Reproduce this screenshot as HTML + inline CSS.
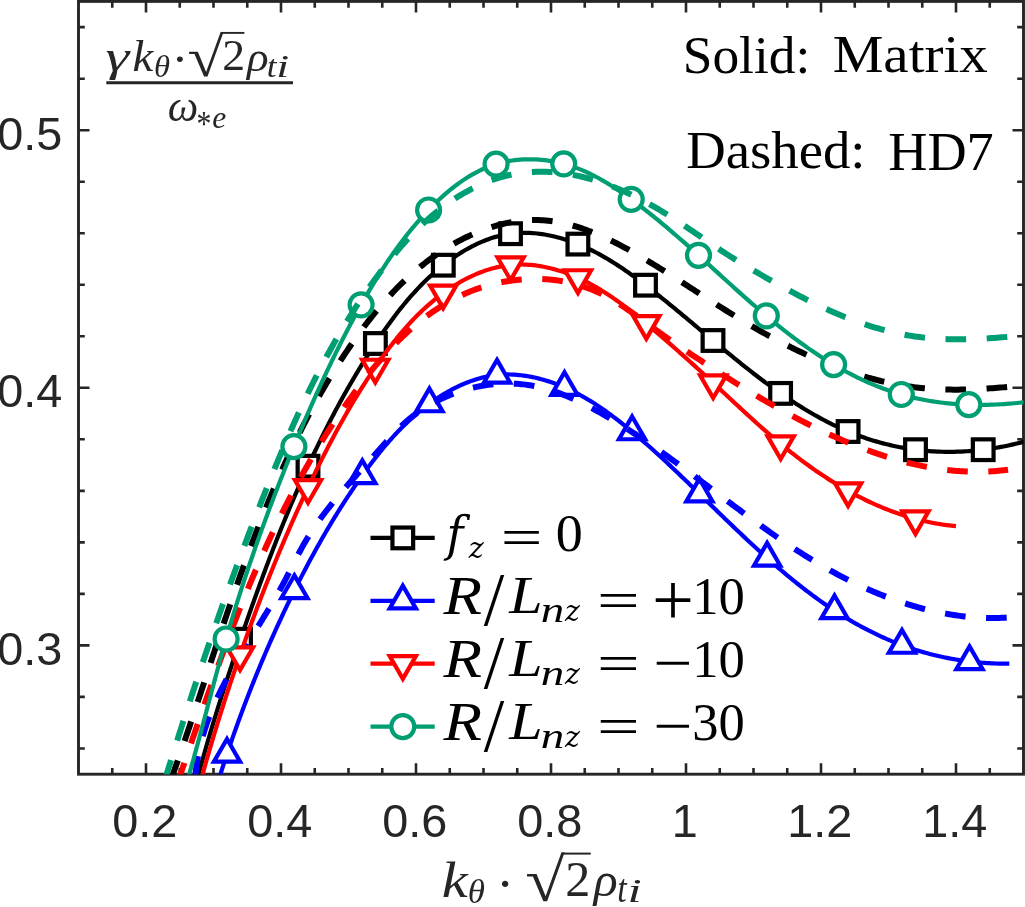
<!DOCTYPE html>
<html><head><meta charset="utf-8"><title>plot</title><style>html,body{margin:0;padding:0;background:#fff;overflow:hidden}svg{display:block}</style></head><body>
<svg width="1025" height="907" viewBox="0 0 1025 907">
<rect width="1025" height="907" fill="#fff"/>
<defs><clipPath id="ax"><rect x="78.5" y="1.4" width="945.0" height="772.8000000000001"/></clipPath></defs>
<path d="M112.25,774.2V767.9M112.25,1.4V7.7M146,774.2V763.2M146,1.4V12.4M179.75,774.2V767.9M179.75,1.4V7.7M213.5,774.2V767.9M213.5,1.4V7.7M247.25,774.2V767.9M247.25,1.4V7.7M281,774.2V763.2M281,1.4V12.4M314.75,774.2V767.9M314.75,1.4V7.7M348.5,774.2V767.9M348.5,1.4V7.7M382.25,774.2V767.9M382.25,1.4V7.7M416,774.2V763.2M416,1.4V12.4M449.75,774.2V767.9M449.75,1.4V7.7M483.5,774.2V767.9M483.5,1.4V7.7M517.25,774.2V767.9M517.25,1.4V7.7M551,774.2V763.2M551,1.4V12.4M584.75,774.2V767.9M584.75,1.4V7.7M618.5,774.2V767.9M618.5,1.4V7.7M652.25,774.2V767.9M652.25,1.4V7.7M686,774.2V763.2M686,1.4V12.4M719.75,774.2V767.9M719.75,1.4V7.7M753.5,774.2V767.9M753.5,1.4V7.7M787.25,774.2V767.9M787.25,1.4V7.7M821,774.2V763.2M821,1.4V12.4M854.75,774.2V767.9M854.75,1.4V7.7M888.5,774.2V767.9M888.5,1.4V7.7M922.25,774.2V767.9M922.25,1.4V7.7M956,774.2V763.2M956,1.4V12.4M989.75,774.2V767.9M989.75,1.4V7.7M78.5,748.44H84.8M1023.5,748.44H1017.2M78.5,696.92H84.8M1023.5,696.92H1017.2M78.5,645.4H89.5M1023.5,645.4H1012.5M78.5,593.88H84.8M1023.5,593.88H1017.2M78.5,542.36H84.8M1023.5,542.36H1017.2M78.5,490.84H84.8M1023.5,490.84H1017.2M78.5,439.32H84.8M1023.5,439.32H1017.2M78.5,387.8H89.5M1023.5,387.8H1012.5M78.5,336.28H84.8M1023.5,336.28H1017.2M78.5,284.76H84.8M1023.5,284.76H1017.2M78.5,233.24H84.8M1023.5,233.24H1017.2M78.5,181.72H84.8M1023.5,181.72H1017.2M78.5,130.2H89.5M1023.5,130.2H1012.5M78.5,78.68H84.8M1023.5,78.68H1017.2M78.5,27.16H84.8M1023.5,27.16H1017.2" fill="none" stroke="#262626" stroke-width="2.6"/>
<rect x="78.5" y="1.4" width="945.0" height="772.8000000000001" fill="none" stroke="#262626" stroke-width="2.9"/>
<text x="144.8" y="837.0" font-family="Liberation Sans, Arial, sans-serif" font-size="46.8" fill="#262626" text-anchor="middle">0.2</text>
<text x="279.8" y="837.0" font-family="Liberation Sans, Arial, sans-serif" font-size="46.8" fill="#262626" text-anchor="middle">0.4</text>
<text x="414.8" y="837.0" font-family="Liberation Sans, Arial, sans-serif" font-size="46.8" fill="#262626" text-anchor="middle">0.6</text>
<text x="549.8" y="837.0" font-family="Liberation Sans, Arial, sans-serif" font-size="46.8" fill="#262626" text-anchor="middle">0.8</text>
<text x="684.8" y="837.0" font-family="Liberation Sans, Arial, sans-serif" font-size="46.8" fill="#262626" text-anchor="middle">1</text>
<text x="819.8" y="837.0" font-family="Liberation Sans, Arial, sans-serif" font-size="46.8" fill="#262626" text-anchor="middle">1.2</text>
<text x="954.8" y="837.0" font-family="Liberation Sans, Arial, sans-serif" font-size="46.8" fill="#262626" text-anchor="middle">1.4</text>
<text x="62.3" y="664.8" font-family="Liberation Sans, Arial, sans-serif" font-size="46.8" fill="#262626" text-anchor="end">0.3</text>
<text x="62.3" y="407.2" font-family="Liberation Sans, Arial, sans-serif" font-size="46.8" fill="#262626" text-anchor="end">0.4</text>
<text x="62.3" y="149.6" font-family="Liberation Sans, Arial, sans-serif" font-size="46.8" fill="#262626" text-anchor="end">0.5</text>
<g clip-path="url(#ax)" fill="none" stroke-linecap="butt" stroke-linejoin="round">
<path d="M197,780L197.64,777.61L198.28,775.22L198.92,772.83L199.57,770.44L200.22,768.05L200.88,765.66L201.54,763.28L202.2,760.9L202.87,758.51L203.54,756.13L204.21,753.75L204.89,751.37L205.57,748.99L206.25,746.62L206.94,744.24L207.63,741.87L208.33,739.49L209.03,737.12L209.73,734.75L210.43,732.38L211.14,730.01L211.85,727.64L212.57,725.27L213.29,722.91L214.01,720.54L214.73,718.18L215.46,715.81L216.19,713.45L216.92,711.09L217.65,708.73L218.39,706.37L219.13,704.01L219.88,701.65L220.62,699.3L221.37,696.94L222.12,694.58L222.88,692.23L223.63,689.87L224.39,687.52L225.15,685.17L225.92,682.82L226.68,680.46L227.45,678.11L228.22,675.76L229,673.41L229.77,671.07L230.55,668.72L231.33,666.37L232.11,664.02L232.89,661.68L233.68,659.33L234.46,656.99L235.25,654.64L236.04,652.3L236.84,649.95L237.63,647.61L238.43,645.27L239.23,642.93L240.03,640.59L240.83,638.25L241.63,635.9L242.43,633.56L243.24,631.23L244.05,628.89L244.86,626.55L245.67,624.21L246.48,621.87L247.3,619.54L248.11,617.2L248.93,614.86L249.75,612.53L250.58,610.19L251.4,607.86L252.23,605.53L253.06,603.2L253.89,600.87L254.72,598.53L255.56,596.21L256.4,593.88L257.24,591.55L258.08,589.22L258.93,586.9L259.77,584.57L260.62,582.25L261.48,579.92L262.33,577.6L263.19,575.28L264.05,572.96L264.92,570.64L265.78,568.32L266.65,566L267.53,563.69L268.4,561.37L269.28,559.06L270.16,556.75L271.04,554.44L271.93,552.13L272.82,549.82L273.72,547.51L274.61,545.2L275.51,542.9L276.42,540.6L277.32,538.29L278.23,535.99L279.15,533.69L280.06,531.4L280.98,529.1L281.91,526.8L282.83,524.51L283.77,522.22L284.7,519.93L285.64,517.64L286.58,515.35L287.53,513.07L288.48,510.78L289.43,508.5L290.39,506.22L291.35,503.94L292.31,501.66L293.28,499.39L294.26,497.11L295.23,494.84L296.22,492.57L297.2,490.3L298.19,488.03L299.19,485.77L300.19,483.51L301.19,481.24L302.2,478.98L303.21,476.73L304.22,474.47L305.25,472.22L306.27,469.97L307.3,467.72L308.34,465.47L309.38,463.23L310.42,460.98L311.47,458.74L312.52,456.5L313.58,454.27L314.65,452.03L315.71,449.8L316.79,447.57L317.87,445.34L318.95,443.12L320.04,440.9L321.13,438.68L322.23,436.46L323.34,434.24L324.45,432.03L325.56,429.82L326.68,427.62L327.81,425.41L328.94,423.21L330.07,421.01L331.22,418.82L332.36,416.62L333.52,414.43L334.68,412.25L335.84,410.06L337.01,407.88L338.19,405.71L339.37,403.53L340.56,401.36L341.75,399.19L342.95,397.03L344.16,394.86L345.37,392.71L346.59,390.55L347.81,388.4L349.05,386.25L350.28,384.11L351.52,381.97L352.77,379.83L354.03,377.7L355.29,375.56L356.56,373.44L357.84,371.32L359.12,369.2L360.41,367.08L361.7,364.97L363,362.86L364.31,360.76L365.62,358.66L366.95,356.56L368.27,354.47L369.61,352.38L370.95,350.3L372.3,348.22L373.66,346.14L375.02,344.07L376.39,342.01L377.77,339.94L379.15,337.89L380.55,335.84L381.95,333.79L383.36,331.75L384.78,329.71L386.21,327.69L387.65,325.67L389.1,323.66L390.56,321.65L392.03,319.65L393.51,317.67L395,315.69L396.51,313.72L398.02,311.76L399.55,309.81L401.1,307.87L402.65,305.95L404.22,304.03L405.81,302.12L407.41,300.23L409.02,298.35L410.65,296.48L412.29,294.63L413.95,292.79L415.63,290.96L417.32,289.15L419.03,287.35L420.76,285.57L422.5,283.8L424.26,282.05L426.04,280.31L427.84,278.59L429.66,276.89L431.49,275.21L433.35,273.54L435.23,271.89L437.13,270.26L439.04,268.65L440.98,267.06L442.94,265.48L444.92,263.93L446.93,262.4L448.95,260.89L451,259.4L453.06,257.94L455.15,256.51L457.25,255.1L459.38,253.73L461.52,252.38L463.68,251.07L465.86,249.79L468.05,248.55L470.26,247.34L472.49,246.17L474.74,245.04L477,243.95L479.27,242.9L481.56,241.9L483.87,240.94L486.19,240.03L488.52,239.17L490.86,238.35L493.22,237.59L495.59,236.87L497.97,236.21L500.36,235.61L502.77,235.06L505.18,234.57L507.61,234.14L510.04,233.76L512.48,233.45L514.93,233.2L517.39,233.01L519.86,232.88L522.33,232.81L524.8,232.79L527.28,232.83L529.77,232.92L532.25,233.07L534.73,233.27L537.22,233.51L539.7,233.81L542.18,234.16L544.65,234.55L547.13,234.99L549.59,235.47L552.06,235.99L554.51,236.56L556.96,237.17L559.39,237.82L561.82,238.51L564.24,239.24L566.64,240L569.03,240.8L571.41,241.63L573.77,242.5L576.12,243.4L578.45,244.32L580.77,245.28L583.06,246.27L585.34,247.28L587.61,248.32L589.85,249.39L592.09,250.49L594.3,251.61L596.51,252.75L598.7,253.92L600.87,255.11L603.03,256.32L605.18,257.56L607.32,258.81L609.44,260.09L611.55,261.38L613.65,262.69L615.74,264.02L617.82,265.37L619.88,266.73L621.94,268.11L623.99,269.5L626.03,270.91L628.06,272.33L630.08,273.76L632.09,275.21L634.1,276.66L636.1,278.13L638.09,279.6L640.07,281.08L642.05,282.58L644.02,284.07L645.99,285.58L647.95,287.09L649.91,288.6L651.87,290.12L653.81,291.65L655.76,293.18L657.7,294.72L659.64,296.26L661.57,297.8L663.5,299.35L665.42,300.9L667.34,302.46L669.26,304.02L671.18,305.59L673.09,307.15L675,308.72L676.91,310.3L678.82,311.87L680.72,313.45L682.62,315.03L684.53,316.61L686.42,318.19L688.32,319.78L690.22,321.37L692.11,322.96L694.01,324.54L695.9,326.13L697.79,327.73L699.69,329.32L701.58,330.91L703.47,332.5L705.37,334.09L707.26,335.68L709.15,337.27L711.05,338.86L712.94,340.45L714.84,342.04L716.74,343.63L718.63,345.21L720.54,346.79L722.44,348.37L724.34,349.95L726.25,351.53L728.16,353.1L730.07,354.67L731.98,356.24L733.9,357.81L735.81,359.37L737.74,360.92L739.66,362.48L741.59,364.02L743.52,365.57L745.46,367.11L747.4,368.64L749.34,370.17L751.29,371.7L753.24,373.22L755.2,374.73L757.16,376.24L759.13,377.74L761.1,379.23L763.08,380.72L765.06,382.2L767.05,383.67L769.04,385.14L771.04,386.6L773.05,388.05L775.06,389.49L777.08,390.93L779.1,392.35L781.14,393.77L783.17,395.18L785.22,396.58L787.27,397.97L789.33,399.35L791.4,400.72L793.47,402.08L795.56,403.43L797.65,404.76L799.74,406.09L801.85,407.4L803.96,408.7L806.08,409.98L808.21,411.26L810.34,412.51L812.48,413.76L814.64,414.99L816.8,416.2L818.96,417.4L821.14,418.59L823.32,419.75L825.52,420.91L827.72,422.04L829.93,423.16L832.15,424.26L834.37,425.34L836.61,426.4L838.86,427.45L841.11,428.47L843.37,429.48L845.65,430.46L847.93,431.43L850.22,432.37L852.52,433.3L854.83,434.2L857.14,435.08L859.47,435.94L861.8,436.78L864.14,437.6L866.49,438.4L868.85,439.17L871.21,439.93L873.58,440.66L875.96,441.37L878.35,442.05L880.74,442.72L883.14,443.36L885.54,443.98L887.95,444.58L890.36,445.15L892.78,445.7L895.2,446.23L897.63,446.73L900.07,447.21L902.51,447.67L904.95,448.11L907.39,448.52L909.84,448.9L912.3,449.26L914.75,449.6L917.21,449.92L919.68,450.21L922.14,450.47L924.61,450.71L927.08,450.93L929.55,451.12L932.02,451.29L934.5,451.44L936.97,451.56L939.45,451.66L941.93,451.74L944.41,451.79L946.89,451.82L949.37,451.83L951.85,451.82L954.33,451.78L956.81,451.72L959.29,451.64L961.76,451.53L964.24,451.4L966.72,451.25L969.19,451.08L971.66,450.89L974.14,450.67L976.6,450.44L979.07,450.18L981.54,449.9L984,449.6L986.46,449.28L988.91,448.94L991.37,448.57L993.82,448.19L996.26,447.78L998.7,447.36L1001.14,446.91L1003.57,446.44L1006,445.96L1008.43,445.45L1010.85,444.92L1013.26,444.38L1015.67,443.81L1018.07,443.22L1020.47,442.62L1022.86,441.99L1025.25,441.35L1027.63,440.68L1030,440" stroke="#000000" stroke-width="4.2"/>
<rect x="230.15" y="628.85" width="20.7" height="20.7" fill="#fff" stroke="#000000" stroke-width="4.2" stroke-linejoin="miter"/>
<rect x="297.65" y="455.85" width="20.7" height="20.7" fill="#fff" stroke="#000000" stroke-width="4.2" stroke-linejoin="miter"/>
<rect x="365.05" y="333.15" width="20.7" height="20.7" fill="#fff" stroke="#000000" stroke-width="4.2" stroke-linejoin="miter"/>
<rect x="432.95" y="254.85" width="20.7" height="20.7" fill="#fff" stroke="#000000" stroke-width="4.2" stroke-linejoin="miter"/>
<rect x="500.15" y="223.35" width="20.7" height="20.7" fill="#fff" stroke="#000000" stroke-width="4.2" stroke-linejoin="miter"/>
<rect x="567.55" y="233.75" width="20.7" height="20.7" fill="#fff" stroke="#000000" stroke-width="4.2" stroke-linejoin="miter"/>
<rect x="635.15" y="274.85" width="20.7" height="20.7" fill="#fff" stroke="#000000" stroke-width="4.2" stroke-linejoin="miter"/>
<rect x="702.65" y="330.15" width="20.7" height="20.7" fill="#fff" stroke="#000000" stroke-width="4.2" stroke-linejoin="miter"/>
<rect x="770.25" y="383.05" width="20.7" height="20.7" fill="#fff" stroke="#000000" stroke-width="4.2" stroke-linejoin="miter"/>
<rect x="837.75" y="421.15" width="20.7" height="20.7" fill="#fff" stroke="#000000" stroke-width="4.2" stroke-linejoin="miter"/>
<rect x="905.15" y="439.35" width="20.7" height="20.7" fill="#fff" stroke="#000000" stroke-width="4.2" stroke-linejoin="miter"/>
<rect x="972.85" y="439.35" width="20.7" height="20.7" fill="#fff" stroke="#000000" stroke-width="4.2" stroke-linejoin="miter"/>
<path d="M170.93,779.93L171.76,777.62L172.58,775.31L173.41,773L174.23,770.69L175.05,768.37L175.87,766.06L176.69,763.74L177.5,761.42L178.32,759.1L179.13,756.77L179.93,754.45L180.74,752.12L181.55,749.79L182.35,747.46L183.15,745.13L183.95,742.8L184.75,740.46L185.55,738.13L186.34,735.79L187.14,733.45L187.93,731.11L188.72,728.77L189.51,726.43L190.3,724.08L191.09,721.74L191.88,719.39L192.66,717.04L193.45,714.7L194.23,712.35L195.02,710L195.8,707.65L196.58,705.29L197.36,702.94L198.15,700.59L198.93,698.23L199.71,695.88L200.49,693.52L201.27,691.17L202.05,688.81L202.83,686.45L203.6,684.09L204.38,681.73L205.16,679.37L205.94,677.01L206.72,674.65L207.5,672.29L208.28,669.93L209.06,667.57L209.84,665.21L210.62,662.85L211.4,660.48L212.18,658.12L212.96,655.76L213.74,653.4L214.53,651.03L215.31,648.67L216.1,646.31L216.88,643.94L217.67,641.58L218.45,639.22L219.24,636.86L220.03,634.49L220.82,632.13L221.61,629.77L222.41,627.41L223.2,625.04L223.99,622.68L224.79,620.32L225.59,617.96L226.39,615.6L227.19,613.24L227.99,610.88L228.8,608.52L229.6,606.17L230.41,603.81L231.22,601.45L232.03,599.1L232.85,596.74L233.66,594.39L234.48,592.03L235.3,589.68L236.12,587.33L236.95,584.98L237.78,582.63L238.6,580.28L239.44,577.93L240.27,575.58L241.11,573.23L241.95,570.89L242.79,568.55L243.63,566.2L244.48,563.86L245.33,561.52L246.18,559.18L247.04,556.84L247.9,554.51L248.76,552.17L249.63,549.84L250.5,547.51L251.37,545.18L252.24,542.85L253.12,540.52L254,538.19L254.89,535.87L255.78,533.55L256.67,531.23L257.57,528.91L258.47,526.59L259.37,524.27L260.28,521.96L261.19,519.65L262.1,517.34L263.02,515.03L263.95,512.72L264.87,510.42L265.8,508.12L266.74,505.82L267.68,503.52L268.62,501.23L269.57,498.93L270.52,496.64L271.48,494.35L272.44,492.07L273.41,489.78L274.38,487.5L275.36,485.22L276.34,482.94L277.33,480.67L278.32,478.4L279.31,476.13L280.31,473.86L281.32,471.6L282.33,469.33L283.34,467.08L284.37,464.82L285.39,462.57L286.42,460.32L287.46,458.07L288.5,455.82L289.55,453.58L290.61,451.34L291.67,449.11L292.73,446.87L293.8,444.64L294.88,442.42L295.96,440.19L297.05,437.97L298.15,435.75L299.25,433.54L300.35,431.33L301.47,429.12L302.59,426.92L303.71,424.72L304.84,422.52L305.98,420.32L307.13,418.13L308.28,415.95L309.44,413.76L310.6,411.58L311.77,409.41L312.95,407.23L314.13,405.06L315.33,402.9L316.52,400.74L317.73,398.58L318.94,396.42L320.16,394.27L321.39,392.13L322.62,389.99L323.86,387.85L325.11,385.71L326.37,383.58L327.63,381.46L328.9,379.33L330.18,377.22L331.46,375.1L332.76,372.99L334.06,370.89L335.37,368.79L336.69,366.69L338.01,364.6L339.34,362.51L340.68,360.42L342.03,358.34L343.39,356.27L344.75,354.2L346.13,352.13L347.51,350.07L348.9,348.02L350.3,345.96L351.7,343.92L353.12,341.88L354.54,339.84L355.98,337.81L357.42,335.78L358.87,333.77L360.34,331.75L361.81,329.75L363.29,327.75L364.78,325.76L366.29,323.78L367.8,321.8L369.33,319.84L370.86,317.88L372.41,315.93L373.97,313.99L375.54,312.06L377.12,310.14L378.72,308.23L380.32,306.33L381.94,304.44L383.57,302.56L385.22,300.69L386.88,298.84L388.55,296.99L390.23,295.16L391.93,293.34L393.65,291.53L395.37,289.74L397.11,287.96L398.87,286.19L400.64,284.43L402.42,282.69L404.22,280.97L406.04,279.25L407.87,277.56L409.72,275.88L411.58,274.21L413.46,272.56L415.35,270.92L417.26,269.31L419.19,267.7L421.14,266.12L423.1,264.55L425.08,263L427.07,261.47L429.09,259.95L431.12,258.46L433.17,256.98L435.23,255.52L437.31,254.09L439.41,252.67L441.52,251.28L443.64,249.91L445.78,248.56L447.93,247.23L450.1,245.93L452.28,244.65L454.47,243.4L456.68,242.18L458.9,240.98L461.12,239.8L463.36,238.66L465.62,237.54L467.88,236.45L470.15,235.4L472.43,234.37L474.72,233.37L477.02,232.4L479.33,231.46L481.64,230.56L483.97,229.69L486.3,228.85L488.63,228.05L490.98,227.28L493.33,226.55L495.69,225.85L498.05,225.19L500.41,224.56L502.79,223.97L505.16,223.42L507.54,222.91L509.92,222.44L512.31,222.01L514.7,221.62L517.09,221.27L519.48,220.96L521.88,220.7L524.27,220.47L526.67,220.29L529.07,220.16L531.46,220.07L533.86,220.02L536.26,220.02L538.65,220.07L541.04,220.16L543.44,220.3L545.82,220.49L548.21,220.72L550.6,220.99L552.98,221.31L555.36,221.68L557.74,222.08L560.11,222.52L562.48,223.01L564.85,223.53L567.22,224.09L569.58,224.69L571.94,225.32L574.3,225.99L576.65,226.7L579,227.43L581.34,228.2L583.68,229L586.02,229.83L588.36,230.7L590.68,231.59L593.01,232.5L595.33,233.45L597.64,234.42L599.96,235.41L602.26,236.43L604.56,237.48L606.86,238.54L609.15,239.63L611.44,240.74L613.72,241.87L615.99,243.01L618.26,244.18L620.53,245.36L622.78,246.55L625.04,247.77L627.28,248.99L629.52,250.23L631.76,251.48L633.98,252.75L636.2,254.02L638.42,255.3L640.62,256.59L642.82,257.89L645.02,259.2L647.2,260.51L649.38,261.83L651.55,263.15L653.72,264.47L655.87,265.8L658.02,267.13L660.17,268.46L662.3,269.79L664.43,271.12L666.55,272.45L668.67,273.79L670.78,275.12L672.88,276.46L674.98,277.79L677.08,279.13L679.17,280.47L681.26,281.81L683.34,283.14L685.42,284.48L687.5,285.81L689.57,287.15L691.64,288.49L693.71,289.82L695.77,291.15L697.84,292.48L699.9,293.81L701.96,295.14L704.02,296.47L706.08,297.79L708.14,299.12L710.2,300.44L712.26,301.76L714.32,303.07L716.38,304.39L718.44,305.7L720.51,307L722.57,308.31L724.64,309.61L726.71,310.91L728.78,312.2L730.86,313.49L732.94,314.78L735.02,316.06L737.1,317.34L739.19,318.61L741.29,319.88L743.39,321.15L745.49,322.41L747.6,323.66L749.72,324.91L751.84,326.16L753.96,327.39L756.1,328.63L758.24,329.85L760.38,331.08L762.54,332.29L764.7,333.5L766.87,334.7L769.04,335.9L771.23,337.08L773.42,338.26L775.61,339.44L777.81,340.6L780.02,341.76L782.23,342.91L784.46,344.05L786.68,345.18L788.92,346.3L791.16,347.42L793.4,348.52L795.65,349.62L797.91,350.7L800.17,351.78L802.44,352.84L804.71,353.9L806.99,354.94L809.28,355.97L811.57,356.99L813.86,358L816.16,359L818.47,359.99L820.78,360.96L823.09,361.93L825.41,362.88L827.74,363.81L830.07,364.74L832.4,365.65L834.74,366.54L837.08,367.43L839.43,368.3L841.78,369.15L844.13,369.99L846.49,370.82L848.86,371.63L851.23,372.43L853.6,373.21L855.97,373.97L858.35,374.72L860.73,375.46L863.12,376.17L865.51,376.88L867.9,377.56L870.3,378.23L872.7,378.88L875.1,379.51L877.5,380.13L879.91,380.73L882.32,381.31L884.74,381.87L887.15,382.41L889.57,382.93L891.99,383.44L894.42,383.93L896.84,384.39L899.27,384.84L901.7,385.27L904.14,385.68L906.57,386.06L909.01,386.43L911.45,386.78L913.89,387.1L916.33,387.41L918.78,387.69L921.22,387.95L923.67,388.19L926.12,388.41L928.57,388.62L931.02,388.8L933.47,388.96L935.93,389.11L938.39,389.23L940.84,389.34L943.3,389.43L945.76,389.51L948.22,389.57L950.69,389.61L953.15,389.63L955.62,389.64L958.09,389.64L960.55,389.62L963.02,389.58L965.49,389.54L967.96,389.47L970.44,389.4L972.91,389.31L975.39,389.21L977.86,389.1L980.34,388.97L982.82,388.83L985.29,388.69L987.77,388.53L990.25,388.36L992.73,388.18L995.22,387.99L997.7,387.79L1000.18,387.59L1002.67,387.37L1005.15,387.15L1007.64,386.92L1010.12,386.68L1012.61,386.44L1015.09,386.18L1017.58,385.93L1020.07,385.66L1022.56,385.39L1025.05,385.12L1027.54,384.84L1030.03,384.56" stroke="#000000" stroke-width="6.0" stroke-dasharray="20.65 20.55" stroke-dashoffset="0"/>
<path d="M218.6,780L219.27,777.87L219.94,775.74L220.62,773.61L221.3,771.49L221.98,769.36L222.67,767.24L223.36,765.11L224.05,762.99L224.75,760.87L225.45,758.75L226.16,756.63L226.86,754.51L227.57,752.39L228.29,750.27L229.01,748.16L229.73,746.04L230.45,743.93L231.18,741.82L231.91,739.71L232.65,737.6L233.39,735.49L234.13,733.38L234.87,731.27L235.62,729.17L236.38,727.06L237.13,724.96L237.89,722.86L238.65,720.76L239.42,718.66L240.19,716.56L240.96,714.47L241.74,712.37L242.52,710.28L243.31,708.18L244.09,706.09L244.88,704L245.68,701.91L246.48,699.83L247.28,697.74L248.09,695.65L248.89,693.57L249.71,691.49L250.52,689.41L251.34,687.33L252.17,685.25L252.99,683.17L253.82,681.1L254.66,679.03L255.5,676.95L256.34,674.88L257.18,672.81L258.03,670.74L258.88,668.68L259.74,666.61L260.6,664.55L261.46,662.49L262.33,660.43L263.2,658.37L264.07,656.31L264.95,654.26L265.83,652.2L266.71,650.15L267.6,648.1L268.49,646.05L269.39,644L270.29,641.95L271.19,639.91L272.1,637.86L273.01,635.82L273.92,633.78L274.84,631.75L275.76,629.71L276.69,627.67L277.62,625.64L278.55,623.61L279.49,621.58L280.43,619.55L281.37,617.52L282.32,615.5L283.27,613.48L284.22,611.46L285.18,609.44L286.15,607.42L287.11,605.4L288.08,603.39L289.06,601.38L290.03,599.37L291.01,597.36L292,595.35L292.99,593.35L293.98,591.34L294.98,589.34L295.98,587.34L296.98,585.35L297.99,583.35L299,581.36L300.02,579.37L301.04,577.38L302.06,575.39L303.09,573.4L304.12,571.42L305.16,569.44L306.2,567.46L307.24,565.49L308.29,563.51L309.35,561.54L310.4,559.57L311.47,557.61L312.53,555.64L313.61,553.68L314.68,551.72L315.76,549.77L316.85,547.81L317.94,545.86L319.03,543.91L320.13,541.97L321.24,540.02L322.35,538.08L323.46,536.15L324.58,534.21L325.71,532.28L326.84,530.35L327.97,528.43L329.11,526.51L330.26,524.59L331.41,522.67L332.56,520.76L333.73,518.85L334.89,516.94L336.06,515.04L337.24,513.14L338.42,511.25L339.61,509.35L340.81,507.46L342.01,505.58L343.21,503.69L344.42,501.82L345.64,499.94L346.86,498.07L348.09,496.2L349.33,494.34L350.57,492.48L351.82,490.62L353.07,488.77L354.33,486.92L355.59,485.07L356.86,483.23L358.14,481.39L359.43,479.56L360.72,477.73L362.01,475.9L363.32,474.08L364.62,472.27L365.94,470.45L367.26,468.65L368.6,466.84L369.93,465.05L371.28,463.26L372.63,461.47L374,459.7L375.37,457.92L376.75,456.16L378.14,454.4L379.54,452.66L380.95,450.92L382.37,449.18L383.8,447.46L385.23,445.75L386.69,444.04L388.15,442.35L389.62,440.66L391.1,438.99L392.6,437.32L394.11,435.67L395.63,434.03L397.16,432.39L398.7,430.77L400.26,429.17L401.83,427.57L403.42,425.99L405.02,424.42L406.63,422.87L408.26,421.33L409.9,419.8L411.55,418.28L413.22,416.79L414.91,415.3L416.61,413.83L418.33,412.38L420.07,410.94L421.82,409.52L423.58,408.12L425.37,406.73L427.17,405.36L428.99,404L430.82,402.67L432.68,401.35L434.55,400.05L436.43,398.78L438.34,397.52L440.26,396.29L442.19,395.08L444.14,393.89L446.11,392.73L448.09,391.6L450.08,390.49L452.09,389.41L454.11,388.36L456.14,387.34L458.19,386.36L460.25,385.4L462.32,384.48L464.4,383.59L466.49,382.74L468.59,381.92L470.71,381.14L472.83,380.4L474.97,379.69L477.11,379.03L479.26,378.41L481.42,377.83L483.59,377.29L485.77,376.8L487.95,376.35L490.14,375.95L492.34,375.59L494.55,375.28L496.76,375.03L498.97,374.82L501.19,374.66L503.42,374.54L505.65,374.48L507.88,374.46L510.11,374.49L512.35,374.56L514.59,374.67L516.82,374.83L519.06,375.04L521.3,375.28L523.53,375.56L525.77,375.89L528,376.25L530.22,376.65L532.45,377.09L534.66,377.56L536.87,378.07L539.08,378.61L541.28,379.19L543.47,379.8L545.65,380.45L547.83,381.12L549.99,381.83L552.15,382.56L554.29,383.32L556.43,384.12L558.55,384.93L560.65,385.78L562.75,386.65L564.83,387.54L566.9,388.46L568.95,389.4L570.99,390.37L573.01,391.36L575.02,392.36L577.02,393.39L579,394.44L580.97,395.51L582.93,396.6L584.88,397.71L586.81,398.84L588.74,399.99L590.65,401.15L592.55,402.33L594.44,403.53L596.32,404.75L598.19,405.98L600.05,407.22L601.89,408.48L603.73,409.75L605.56,411.04L607.38,412.34L609.19,413.66L611,414.98L612.79,416.32L614.58,417.67L616.35,419.03L618.12,420.4L619.89,421.78L621.64,423.16L623.39,424.56L625.14,425.96L626.87,427.38L628.6,428.8L630.33,430.22L632.05,431.66L633.76,433.09L635.47,434.54L637.17,435.99L638.87,437.44L640.56,438.9L642.25,440.36L643.94,441.83L645.62,443.3L647.29,444.78L648.96,446.27L650.63,447.75L652.3,449.24L653.95,450.74L655.61,452.24L657.26,453.74L658.91,455.25L660.56,456.76L662.2,458.27L663.84,459.79L665.47,461.31L667.11,462.83L668.74,464.36L670.36,465.89L671.99,467.42L673.61,468.95L675.23,470.49L676.85,472.03L678.47,473.57L680.08,475.11L681.69,476.66L683.3,478.21L684.91,479.75L686.52,481.3L688.13,482.86L689.73,484.41L691.34,485.96L692.94,487.52L694.54,489.07L696.14,490.63L697.74,492.19L699.34,493.74L700.94,495.3L702.54,496.86L704.14,498.42L705.74,499.98L707.34,501.54L708.94,503.1L710.54,504.65L712.14,506.21L713.74,507.77L715.34,509.33L716.94,510.88L718.55,512.44L720.15,513.99L721.75,515.55L723.36,517.1L724.96,518.65L726.57,520.2L728.18,521.75L729.79,523.3L731.4,524.85L733.01,526.39L734.63,527.94L736.24,529.48L737.86,531.02L739.48,532.55L741.1,534.09L742.73,535.62L744.35,537.15L745.98,538.68L747.61,540.21L749.25,541.73L750.88,543.25L752.52,544.77L754.16,546.28L755.81,547.79L757.46,549.3L759.11,550.8L760.76,552.31L762.42,553.8L764.08,555.3L765.74,556.79L767.41,558.28L769.08,559.76L770.76,561.24L772.44,562.72L774.12,564.19L775.81,565.65L777.5,567.12L779.2,568.57L780.9,570.02L782.6,571.47L784.31,572.91L786.02,574.35L787.74,575.78L789.46,577.2L791.19,578.62L792.92,580.04L794.66,581.44L796.4,582.84L798.15,584.24L799.9,585.62L801.66,587L803.43,588.38L805.19,589.74L806.97,591.1L808.75,592.45L810.54,593.79L812.33,595.13L814.13,596.46L815.93,597.77L817.74,599.09L819.56,600.39L821.38,601.68L823.21,602.97L825.04,604.24L826.89,605.51L828.73,606.77L830.59,608.02L832.45,609.25L834.32,610.48L836.2,611.7L838.08,612.91L839.97,614.11L841.87,615.3L843.77,616.47L845.68,617.64L847.6,618.8L849.52,619.94L851.45,621.07L853.39,622.2L855.34,623.3L857.29,624.4L859.24,625.49L861.21,626.56L863.18,627.62L865.16,628.67L867.14,629.71L869.13,630.73L871.13,631.74L873.14,632.73L875.15,633.71L877.17,634.68L879.19,635.64L881.22,636.58L883.26,637.5L885.3,638.41L887.35,639.31L889.41,640.19L891.47,641.06L893.54,641.91L895.61,642.74L897.69,643.56L899.78,644.37L901.87,645.15L903.97,645.92L906.08,646.68L908.19,647.42L910.31,648.14L912.43,648.85L914.56,649.54L916.7,650.21L918.84,650.87L920.98,651.51L923.13,652.14L925.28,652.75L927.44,653.34L929.61,653.91L931.77,654.47L933.95,655.02L936.12,655.54L938.3,656.05L940.49,656.55L942.67,657.02L944.86,657.48L947.06,657.93L949.26,658.36L951.46,658.77L953.66,659.16L955.87,659.54L958.08,659.9L960.29,660.25L962.5,660.57L964.72,660.89L966.94,661.18L969.16,661.46L971.38,661.72L973.6,661.97L975.83,662.19L978.06,662.4L980.29,662.6L982.51,662.78L984.74,662.94L986.98,663.08L989.21,663.21L991.44,663.32L993.67,663.41L995.91,663.49L998.14,663.55L1000.37,663.6L1002.6,663.62L1004.84,663.63L1007.07,663.62L1009.3,663.6" stroke="#0000ff" stroke-width="4.2"/>
<polygon points="227,738.97 240.1,761.66 213.9,761.66" fill="#fff" stroke="#0000ff" stroke-width="4.2" stroke-linejoin="miter"/>
<polygon points="294.4,575.37 307.5,598.06 281.3,598.06" fill="#fff" stroke="#0000ff" stroke-width="4.2" stroke-linejoin="miter"/>
<polygon points="362.3,460.37 375.4,483.06 349.2,483.06" fill="#fff" stroke="#0000ff" stroke-width="4.2" stroke-linejoin="miter"/>
<polygon points="429.4,388.57 442.5,411.26 416.3,411.26" fill="#fff" stroke="#0000ff" stroke-width="4.2" stroke-linejoin="miter"/>
<polygon points="497,359.87 510.1,382.56 483.9,382.56" fill="#fff" stroke="#0000ff" stroke-width="4.2" stroke-linejoin="miter"/>
<polygon points="564.5,372.27 577.6,394.96 551.4,394.96" fill="#fff" stroke="#0000ff" stroke-width="4.2" stroke-linejoin="miter"/>
<polygon points="632.1,416.57 645.2,439.26 619,439.26" fill="#fff" stroke="#0000ff" stroke-width="4.2" stroke-linejoin="miter"/>
<polygon points="699.4,478.67 712.5,501.36 686.3,501.36" fill="#fff" stroke="#0000ff" stroke-width="4.2" stroke-linejoin="miter"/>
<polygon points="767.1,542.87 780.2,565.56 754,565.56" fill="#fff" stroke="#0000ff" stroke-width="4.2" stroke-linejoin="miter"/>
<polygon points="834.5,595.47 847.6,618.16 821.4,618.16" fill="#fff" stroke="#0000ff" stroke-width="4.2" stroke-linejoin="miter"/>
<polygon points="902,630.07 915.1,652.76 888.9,652.76" fill="#fff" stroke="#0000ff" stroke-width="4.2" stroke-linejoin="miter"/>
<polygon points="969.5,646.37 982.6,669.06 956.4,669.06" fill="#fff" stroke="#0000ff" stroke-width="4.2" stroke-linejoin="miter"/>
<path d="M194.99,780L195.17,777.6L195.37,775.22L195.6,772.86L195.86,770.51L196.14,768.18L196.44,765.85L196.77,763.55L197.13,761.25L197.51,758.97L197.91,756.71L198.34,754.45L198.79,752.21L199.26,749.98L199.75,747.77L200.27,745.56L200.8,743.37L201.36,741.19L201.94,739.02L202.54,736.86L203.16,734.72L203.8,732.58L204.46,730.46L205.14,728.34L205.83,726.24L206.55,724.14L207.28,722.06L208.03,719.98L208.8,717.92L209.58,715.86L210.38,713.82L211.19,711.78L212.03,709.75L212.87,707.73L213.73,705.71L214.61,703.71L215.5,701.71L216.4,699.72L217.32,697.74L218.25,695.76L219.19,693.8L220.15,691.83L221.12,689.88L222.1,687.93L223.09,685.99L224.09,684.05L225.1,682.12L226.12,680.19L227.15,678.27L228.19,676.36L229.24,674.44L230.3,672.54L231.36,670.64L232.44,668.74L233.52,666.84L234.61,664.95L235.71,663.07L236.81,661.18L237.92,659.3L239.03,657.43L240.15,655.55L241.27,653.68L242.4,651.81L243.54,649.94L244.67,648.07L245.81,646.21L246.96,644.35L248.1,642.48L249.25,640.62L250.4,638.76L251.55,636.9L252.71,635.04L253.86,633.19L255.02,631.33L256.17,629.47L257.33,627.61L258.48,625.75L259.63,623.89L260.79,622.02L261.94,620.16L263.08,618.29L264.23,616.43L265.37,614.56L266.51,612.69L267.65,610.81L268.78,608.94L269.91,607.06L271.04,605.17L272.15,603.29L273.27,601.4L274.38,599.51L275.48,597.61L276.57,595.71L277.66,593.81L278.74,591.9L279.82,589.98L280.88,588.07L281.94,586.14L282.99,584.21L284.03,582.28L285.06,580.34L286.08,578.39L287.09,576.44L288.1,574.48L289.09,572.52L290.09,570.56L291.08,568.6L292.07,566.63L293.06,564.67L294.05,562.7L295.04,560.74L296.03,558.78L297.04,556.83L298.05,554.88L299.06,552.93L300.09,550.99L301.13,549.06L302.18,547.14L303.25,545.23L304.33,543.32L305.43,541.43L306.55,539.55L307.68,537.68L308.83,535.82L309.99,533.97L311.17,532.13L312.37,530.3L313.57,528.47L314.8,526.66L316.03,524.86L317.28,523.07L318.55,521.28L319.82,519.5L321.11,517.74L322.41,515.97L323.72,514.22L325.04,512.48L326.38,510.74L327.72,509.01L329.07,507.28L330.43,505.56L331.8,503.85L333.18,502.15L334.57,500.45L335.97,498.75L337.37,497.06L338.78,495.38L340.2,493.7L341.62,492.03L343.05,490.36L344.49,488.69L345.93,487.03L347.37,485.38L348.82,483.72L350.27,482.07L351.73,480.43L353.19,478.78L354.65,477.14L356.12,475.5L357.58,473.86L359.05,472.23L360.52,470.6L361.99,468.96L363.46,467.33L364.93,465.7L366.41,464.08L367.88,462.45L369.34,460.82L370.81,459.19L372.28,457.57L373.74,455.94L375.2,454.31L376.66,452.68L378.11,451.05L379.56,449.42L381.01,447.79L382.45,446.16L383.89,444.52L385.34,442.9L386.78,441.27L388.23,439.66L389.69,438.05L391.16,436.44L392.63,434.85L394.12,433.27L395.62,431.71L397.13,430.16L398.67,428.62L400.22,427.1L401.79,425.6L403.38,424.12L405,422.67L406.64,421.23L408.3,419.82L409.99,418.44L411.7,417.07L413.44,415.73L415.19,414.42L416.97,413.12L418.77,411.86L420.59,410.61L422.43,409.4L424.28,408.2L426.16,407.04L428.06,405.89L429.97,404.78L431.9,403.69L433.84,402.62L435.81,401.59L437.78,400.57L439.78,399.59L441.79,398.63L443.81,397.7L445.84,396.8L447.89,395.92L449.95,395.08L452.02,394.26L454.1,393.47L456.2,392.7L458.3,391.97L460.42,391.26L462.54,390.59L464.67,389.94L466.81,389.32L468.95,388.74L471.11,388.18L473.27,387.65L475.43,387.16L477.61,386.69L479.78,386.26L481.96,385.85L484.14,385.48L486.33,385.14L488.52,384.83L490.71,384.55L492.91,384.31L495.1,384.09L497.29,383.91L499.49,383.76L501.68,383.65L503.88,383.57L506.07,383.52L508.26,383.5L510.44,383.52L512.63,383.58L514.8,383.67L516.98,383.79L519.15,383.94L521.31,384.14L523.47,384.36L525.62,384.63L527.77,384.92L529.91,385.25L532.04,385.62L534.16,386.02L536.28,386.45L538.39,386.92L540.49,387.41L542.59,387.93L544.68,388.49L546.76,389.07L548.84,389.68L550.91,390.32L552.98,390.99L555.04,391.68L557.09,392.39L559.13,393.13L561.17,393.9L563.21,394.68L565.23,395.49L567.25,396.32L569.27,397.17L571.28,398.04L573.28,398.93L575.28,399.84L577.27,400.77L579.25,401.71L581.23,402.67L583.2,403.64L585.17,404.63L587.13,405.64L589.09,406.65L591.04,407.68L592.98,408.72L594.92,409.78L596.86,410.84L598.79,411.91L600.71,412.99L602.63,414.08L604.54,415.18L606.45,416.28L608.35,417.39L610.25,418.51L612.14,419.63L614.03,420.77L615.91,421.91L617.79,423.05L619.66,424.2L621.53,425.36L623.4,426.52L625.26,427.69L627.11,428.87L628.96,430.05L630.81,431.24L632.66,432.43L634.49,433.63L636.33,434.84L638.16,436.05L639.99,437.26L641.82,438.48L643.64,439.7L645.45,440.93L647.27,442.17L649.08,443.4L650.89,444.65L652.69,445.89L654.5,447.15L656.29,448.4L658.09,449.66L659.88,450.92L661.67,452.19L663.46,453.46L665.25,454.73L667.03,456.01L668.81,457.29L670.59,458.57L672.37,459.86L674.14,461.15L675.91,462.44L677.68,463.73L679.45,465.03L681.22,466.33L682.99,467.63L684.75,468.93L686.51,470.24L688.27,471.55L690.03,472.85L691.79,474.17L693.55,475.48L695.3,476.79L697.06,478.1L698.81,479.42L700.56,480.74L702.32,482.05L704.07,483.37L705.82,484.69L707.57,486.01L709.32,487.33L711.07,488.65L712.82,489.97L714.57,491.29L716.32,492.61L718.07,493.93L719.82,495.25L721.57,496.57L723.32,497.89L725.07,499.21L726.82,500.53L728.57,501.84L730.32,503.16L732.08,504.47L733.83,505.78L735.58,507.1L737.34,508.41L739.1,509.71L740.85,511.02L742.61,512.32L744.37,513.63L746.13,514.93L747.9,516.23L749.66,517.52L751.43,518.81L753.19,520.1L754.96,521.39L756.74,522.68L758.51,523.96L760.28,525.24L762.06,526.51L763.84,527.79L765.62,529.05L767.41,530.32L769.19,531.58L770.98,532.84L772.78,534.09L774.57,535.34L776.37,536.59L778.17,537.83L779.97,539.07L781.78,540.3L783.59,541.53L785.4,542.75L787.22,543.97L789.04,545.18L790.86,546.39L792.68,547.59L794.51,548.78L796.35,549.98L798.19,551.16L800.03,552.34L801.87,553.52L803.72,554.68L805.58,555.85L807.43,557L809.3,558.15L811.16,559.29L813.03,560.43L814.91,561.56L816.79,562.68L818.67,563.8L820.56,564.9L822.46,566.01L824.36,567.1L826.26,568.19L828.17,569.26L830.09,570.34L832.01,571.4L833.93,572.45L835.87,573.5L837.8,574.54L839.75,575.57L841.69,576.59L843.65,577.61L845.61,578.61L847.57,579.61L849.54,580.59L851.52,581.57L853.5,582.54L855.49,583.5L857.48,584.45L859.48,585.39L861.48,586.32L863.49,587.24L865.5,588.15L867.51,589.04L869.54,589.93L871.56,590.81L873.59,591.67L875.63,592.53L877.67,593.37L879.71,594.21L881.76,595.03L883.82,595.84L885.87,596.63L887.94,597.42L890,598.19L892.07,598.96L894.15,599.7L896.22,600.44L898.31,601.16L900.39,601.87L902.48,602.57L904.57,603.26L906.67,603.93L908.77,604.58L910.87,605.23L912.98,605.86L915.09,606.47L917.2,607.07L919.32,607.66L921.44,608.23L923.56,608.79L925.69,609.34L927.81,609.86L929.95,610.38L932.08,610.88L934.22,611.36L936.35,611.83L938.5,612.28L940.64,612.71L942.79,613.13L944.94,613.54L947.09,613.92L949.24,614.29L951.4,614.65L953.55,614.99L955.71,615.31L957.88,615.61L960.04,615.89L962.2,616.16L964.37,616.41L966.54,616.65L968.71,616.86L970.88,617.06L973.05,617.24L975.23,617.4L977.4,617.54L979.58,617.67L981.76,617.77L983.94,617.86L986.12,617.93L988.3,617.97L990.48,618L992.67,618.01L994.85,618L997.03,617.97L999.22,617.92L1001.41,617.85L1003.59,617.76L1005.78,617.65L1007.97,617.51" stroke="#0000ff" stroke-width="6.0" stroke-dasharray="20.65 20.55" stroke-dashoffset="-3.4"/>
<path d="M201,780L201.61,777.78L202.23,775.55L202.85,773.33L203.47,771.11L204.09,768.89L204.72,766.67L205.35,764.45L205.98,762.23L206.62,760.02L207.25,757.8L207.89,755.58L208.54,753.37L209.18,751.16L209.83,748.94L210.48,746.73L211.13,744.52L211.79,742.31L212.45,740.1L213.11,737.89L213.77,735.68L214.44,733.47L215.11,731.27L215.78,729.06L216.46,726.86L217.13,724.65L217.81,722.45L218.49,720.25L219.18,718.05L219.87,715.84L220.56,713.64L221.25,711.45L221.94,709.25L222.64,707.05L223.34,704.85L224.05,702.66L224.75,700.46L225.46,698.27L226.17,696.07L226.88,693.88L227.6,691.69L228.32,689.5L229.04,687.31L229.76,685.12L230.49,682.93L231.22,680.74L231.95,678.56L232.68,676.37L233.42,674.19L234.15,672L234.9,669.82L235.64,667.64L236.39,665.45L237.13,663.27L237.89,661.09L238.64,658.91L239.4,656.73L240.15,654.56L240.92,652.38L241.68,650.2L242.45,648.03L243.22,645.85L243.99,643.68L244.76,641.51L245.54,639.34L246.32,637.16L247.1,634.99L247.88,632.83L248.67,630.66L249.46,628.49L250.25,626.32L251.05,624.16L251.84,621.99L252.64,619.83L253.45,617.67L254.25,615.51L255.06,613.35L255.87,611.19L256.68,609.03L257.5,606.87L258.32,604.71L259.14,602.56L259.97,600.4L260.79,598.25L261.62,596.1L262.45,593.95L263.29,591.8L264.13,589.65L264.97,587.5L265.81,585.35L266.66,583.2L267.51,581.06L268.36,578.92L269.22,576.77L270.08,574.63L270.94,572.49L271.8,570.35L272.67,568.22L273.54,566.08L274.41,563.94L275.29,561.81L276.16,559.68L277.04,557.54L277.93,555.41L278.82,553.28L279.71,551.16L280.6,549.03L281.5,546.9L282.4,544.78L283.3,542.65L284.2,540.53L285.11,538.41L286.02,536.29L286.94,534.17L287.85,532.06L288.77,529.94L289.7,527.83L290.63,525.72L291.55,523.6L292.49,521.49L293.42,519.39L294.36,517.28L295.31,515.17L296.25,513.07L297.2,510.97L298.15,508.86L299.11,506.76L300.06,504.67L301.03,502.57L301.99,500.47L302.96,498.38L303.93,496.29L304.9,494.19L305.88,492.1L306.86,490.02L307.84,487.93L308.83,485.84L309.82,483.76L310.82,481.68L311.81,479.6L312.82,477.52L313.82,475.44L314.83,473.36L315.84,471.29L316.86,469.22L317.88,467.15L318.9,465.08L319.93,463.02L320.96,460.95L322,458.89L323.04,456.83L324.08,454.78L325.13,452.72L326.18,450.67L327.24,448.62L328.3,446.57L329.37,444.52L330.44,442.48L331.52,440.44L332.6,438.4L333.69,436.37L334.78,434.34L335.88,432.31L336.98,430.28L338.09,428.26L339.2,426.24L340.32,424.22L341.44,422.2L342.57,420.19L343.7,418.18L344.84,416.18L345.99,414.17L347.14,412.17L348.3,410.18L349.46,408.18L350.63,406.2L351.8,404.21L352.99,402.23L354.17,400.25L355.37,398.27L356.57,396.3L357.77,394.33L358.99,392.37L360.21,390.41L361.43,388.45L362.67,386.5L363.91,384.55L365.15,382.6L366.41,380.66L367.67,378.72L368.93,376.79L370.21,374.86L371.49,372.93L372.78,371.01L374.07,369.1L375.38,367.19L376.69,365.28L378.01,363.37L379.34,361.48L380.67,359.58L382.02,357.7L383.37,355.82L384.73,353.94L386.1,352.08L387.48,350.22L388.87,348.36L390.27,346.52L391.69,344.68L393.11,342.86L394.54,341.04L395.99,339.23L397.44,337.43L398.91,335.64L400.39,333.86L401.88,332.1L403.39,330.34L404.91,328.6L406.44,326.86L407.98,325.14L409.54,323.44L411.11,321.74L412.7,320.06L414.3,318.39L415.92,316.74L417.55,315.1L419.2,313.48L420.86,311.87L422.54,310.27L424.24,308.7L425.95,307.13L427.68,305.59L429.42,304.06L431.19,302.55L432.97,301.06L434.76,299.58L436.58,298.13L438.42,296.69L440.27,295.27L442.14,293.87L444.03,292.5L445.95,291.14L447.88,289.8L449.82,288.49L451.79,287.2L453.77,285.93L455.78,284.69L457.79,283.48L459.83,282.29L461.88,281.13L463.94,280.01L466.02,278.91L468.11,277.85L470.22,276.81L472.34,275.82L474.48,274.85L476.63,273.93L478.79,273.04L480.96,272.19L483.14,271.37L485.34,270.6L487.54,269.87L489.76,269.18L491.98,268.54L494.21,267.94L496.46,267.38L498.71,266.87L500.97,266.41L503.23,265.99L505.51,265.63L507.79,265.32L510.07,265.05L512.37,264.84L514.66,264.68L516.97,264.58L519.27,264.52L521.58,264.51L523.89,264.56L526.2,264.65L528.51,264.78L530.83,264.96L533.14,265.19L535.45,265.46L537.76,265.78L540.06,266.13L542.36,266.53L544.66,266.97L546.95,267.45L549.23,267.96L551.51,268.52L553.78,269.11L556.04,269.74L558.29,270.4L560.54,271.1L562.77,271.83L564.99,272.6L567.2,273.39L569.39,274.22L571.58,275.08L573.75,275.96L575.9,276.88L578.04,277.82L580.16,278.78L582.26,279.78L584.35,280.8L586.43,281.84L588.48,282.9L590.53,283.99L592.56,285.11L594.57,286.24L596.58,287.4L598.57,288.57L600.54,289.77L602.51,290.98L604.46,292.21L606.4,293.47L608.33,294.73L610.25,296.02L612.15,297.32L614.05,298.64L615.94,299.97L617.82,301.31L619.69,302.67L621.55,304.04L623.4,305.42L625.24,306.82L627.08,308.22L628.91,309.64L630.73,311.06L632.55,312.49L634.36,313.93L636.16,315.38L637.96,316.83L639.75,318.3L641.54,319.76L643.33,321.23L645.11,322.71L646.88,324.19L648.66,325.67L650.43,327.15L652.2,328.64L653.96,330.13L655.72,331.62L657.48,333.12L659.24,334.62L660.99,336.12L662.74,337.62L664.49,339.13L666.23,340.64L667.97,342.15L669.71,343.67L671.45,345.18L673.18,346.7L674.92,348.22L676.65,349.75L678.37,351.28L680.1,352.81L681.82,354.34L683.54,355.87L685.26,357.41L686.98,358.94L688.69,360.48L690.4,362.03L692.11,363.57L693.82,365.12L695.53,366.67L697.23,368.22L698.93,369.77L700.63,371.32L702.33,372.88L704.03,374.44L705.73,376L707.42,377.56L709.12,379.12L710.81,380.68L712.5,382.25L714.19,383.82L715.88,385.39L717.57,386.96L719.25,388.53L720.94,390.1L722.62,391.68L724.31,393.25L726,394.82L727.68,396.4L729.37,397.97L731.05,399.54L732.74,401.12L734.43,402.69L736.12,404.26L737.8,405.83L739.5,407.4L741.19,408.96L742.88,410.53L744.58,412.09L746.28,413.65L747.98,415.21L749.68,416.77L751.38,418.32L753.09,419.87L754.8,421.42L756.52,422.96L758.23,424.5L759.95,426.03L761.68,427.57L763.41,429.09L765.14,430.62L766.87,432.13L768.61,433.65L770.36,435.16L772.11,436.66L773.86,438.16L775.62,439.65L777.38,441.14L779.15,442.62L780.93,444.09L782.71,445.56L784.5,447.02L786.29,448.47L788.09,449.92L789.89,451.36L791.7,452.79L793.52,454.22L795.34,455.63L797.17,457.04L799,458.44L800.84,459.84L802.69,461.22L804.55,462.6L806.41,463.96L808.27,465.32L810.15,466.67L812.03,468.01L813.91,469.34L815.81,470.66L817.71,471.97L819.61,473.27L821.53,474.56L823.45,475.84L825.38,477.11L827.31,478.37L829.26,479.62L831.21,480.86L833.16,482.08L835.13,483.29L837.1,484.5L839.08,485.69L841.07,486.87L843.06,488.03L845.07,489.18L847.08,490.33L849.1,491.45L851.12,492.57L853.16,493.67L855.2,494.76L857.25,495.84L859.3,496.9L861.37,497.94L863.44,498.98L865.52,500L867.6,501L869.7,501.99L871.8,502.96L873.9,503.92L876.02,504.86L878.14,505.78L880.26,506.69L882.4,507.58L884.54,508.46L886.68,509.32L888.84,510.16L891,510.98L893.16,511.79L895.33,512.57L897.51,513.34L899.7,514.09L901.89,514.82L904.08,515.54L906.28,516.23L908.49,516.9L910.7,517.56L912.92,518.19L915.14,518.8L917.37,519.4L919.61,519.97L921.85,520.52L924.09,521.05L926.34,521.56L928.59,522.05L930.85,522.51L933.12,522.95L935.38,523.37L937.66,523.77L939.94,524.14L942.22,524.49L944.5,524.82L946.8,525.13L949.09,525.41L951.39,525.66L953.69,525.89L956,526.1" stroke="#ff0000" stroke-width="4.2"/>
<polygon points="240,670.13 253.1,647.44 226.9,647.44" fill="#fff" stroke="#ff0000" stroke-width="4.2" stroke-linejoin="miter"/>
<polygon points="308,502.73 321.1,480.04 294.9,480.04" fill="#fff" stroke="#ff0000" stroke-width="4.2" stroke-linejoin="miter"/>
<polygon points="375.3,382.43 388.4,359.74 362.2,359.74" fill="#fff" stroke="#ff0000" stroke-width="4.2" stroke-linejoin="miter"/>
<polygon points="443.2,308.23 456.3,285.54 430.1,285.54" fill="#fff" stroke="#ff0000" stroke-width="4.2" stroke-linejoin="miter"/>
<polygon points="510.6,280.13 523.7,257.44 497.5,257.44" fill="#fff" stroke="#ff0000" stroke-width="4.2" stroke-linejoin="miter"/>
<polygon points="578,292.93 591.1,270.24 564.9,270.24" fill="#fff" stroke="#ff0000" stroke-width="4.2" stroke-linejoin="miter"/>
<polygon points="646.3,338.83 659.4,316.14 633.2,316.14" fill="#fff" stroke="#ff0000" stroke-width="4.2" stroke-linejoin="miter"/>
<polygon points="713.2,398.03 726.3,375.34 700.1,375.34" fill="#fff" stroke="#ff0000" stroke-width="4.2" stroke-linejoin="miter"/>
<polygon points="780.7,459.03 793.8,436.34 767.6,436.34" fill="#fff" stroke="#ff0000" stroke-width="4.2" stroke-linejoin="miter"/>
<polygon points="848.1,506.03 861.2,483.34 835,483.34" fill="#fff" stroke="#ff0000" stroke-width="4.2" stroke-linejoin="miter"/>
<polygon points="915.5,534.03 928.6,511.34 902.4,511.34" fill="#fff" stroke="#ff0000" stroke-width="4.2" stroke-linejoin="miter"/>
<path d="M178.48,780.05L179.25,777.82L180.02,775.58L180.78,773.34L181.55,771.11L182.31,768.87L183.07,766.63L183.84,764.4L184.6,762.16L185.37,759.93L186.13,757.69L186.89,755.46L187.66,753.23L188.42,750.99L189.19,748.76L189.95,746.53L190.71,744.29L191.48,742.06L192.24,739.83L193.01,737.6L193.77,735.37L194.54,733.14L195.31,730.91L196.07,728.68L196.84,726.46L197.61,724.23L198.38,722L199.14,719.78L199.91,717.55L200.69,715.33L201.46,713.1L202.23,710.88L203,708.66L203.78,706.44L204.55,704.22L205.33,702L206.11,699.78L206.88,697.56L207.66,695.34L208.44,693.12L209.23,690.91L210.01,688.69L210.79,686.48L211.58,684.26L212.37,682.05L213.16,679.84L213.95,677.63L214.74,675.42L215.53,673.21L216.33,671.01L217.12,668.8L217.92,666.59L218.72,664.39L219.53,662.19L220.33,659.98L221.14,657.78L221.94,655.58L222.75,653.38L223.57,651.19L224.38,648.99L225.2,646.79L226.01,644.6L226.84,642.41L227.66,640.21L228.48,638.02L229.31,635.83L230.14,633.65L230.97,631.46L231.81,629.27L232.64,627.09L233.48,624.91L234.33,622.73L235.17,620.55L236.02,618.37L236.87,616.19L237.72,614.01L238.58,611.84L239.44,609.67L240.3,607.5L241.17,605.33L242.03,603.16L242.9,600.99L243.78,598.82L244.66,596.66L245.54,594.5L246.42,592.34L247.31,590.18L248.2,588.02L249.09,585.87L249.99,583.71L250.89,581.56L251.79,579.41L252.7,577.26L253.61,575.11L254.52,572.97L255.44,570.82L256.36,568.68L257.29,566.54L258.22,564.4L259.15,562.26L260.09,560.13L261.03,558L261.98,555.86L262.93,553.74L263.88,551.61L264.84,549.48L265.8,547.36L266.76,545.24L267.73,543.12L268.71,541L269.69,538.88L270.67,536.77L271.66,534.66L272.65,532.55L273.64,530.44L274.64,528.34L275.65,526.23L276.66,524.13L277.67,522.03L278.69,519.93L279.72,517.84L280.75,515.75L281.78,513.66L282.82,511.57L283.86,509.48L284.91,507.4L285.96,505.32L287.02,503.24L288.09,501.16L289.16,499.08L290.23,497.01L291.31,494.94L292.39,492.87L293.48,490.81L294.58,488.74L295.68,486.68L296.79,484.62L297.9,482.57L299.01,480.52L300.14,478.46L301.27,476.42L302.4,474.37L303.54,472.33L304.69,470.29L305.84,468.25L306.99,466.21L308.16,464.18L309.33,462.15L310.5,460.12L311.68,458.09L312.87,456.07L314.06,454.05L315.26,452.03L316.47,450.02L317.68,448L318.9,446L320.12,443.99L321.36,441.98L322.59,439.98L323.84,437.98L325.09,435.99L326.34,434L327.61,432.01L328.88,430.02L330.16,428.03L331.44,426.05L332.73,424.07L334.03,422.1L335.33,420.13L336.64,418.16L337.96,416.19L339.29,414.23L340.62,412.27L341.96,410.31L343.3,408.35L344.66,406.4L346.02,404.45L347.38,402.51L348.76,400.56L350.14,398.62L351.53,396.69L352.93,394.76L354.34,392.83L355.75,390.9L357.17,388.98L358.6,387.07L360.03,385.16L361.48,383.26L362.93,381.36L364.39,379.47L365.86,377.58L367.34,375.71L368.83,373.84L370.33,371.97L371.83,370.12L373.34,368.27L374.87,366.44L376.4,364.61L377.94,362.79L379.49,360.99L381.05,359.19L382.62,357.4L384.2,355.63L385.79,353.86L387.39,352.11L389,350.37L390.62,348.64L392.24,346.92L393.88,345.22L395.53,343.53L397.19,341.86L398.87,340.2L400.55,338.55L402.24,336.92L403.94,335.3L405.66,333.7L407.38,332.12L409.12,330.55L410.87,329L412.63,327.46L414.4,325.94L416.18,324.44L417.98,322.96L419.78,321.5L421.6,320.05L423.43,318.63L425.28,317.22L427.13,315.83L429,314.47L430.88,313.12L432.77,311.8L434.68,310.49L436.59,309.21L438.52,307.95L440.47,306.71L442.43,305.5L444.4,304.3L446.38,303.13L448.38,301.99L450.39,300.87L452.41,299.77L454.45,298.7L456.5,297.65L458.56,296.63L460.64,295.63L462.74,294.66L464.84,293.72L466.97,292.8L469.1,291.91L471.25,291.05L473.42,290.21L475.6,289.41L477.79,288.63L480,287.88L482.21,287.16L484.44,286.47L486.68,285.81L488.94,285.17L491.2,284.57L493.47,283.99L495.75,283.45L498.04,282.93L500.33,282.44L502.64,281.99L504.95,281.56L507.27,281.17L509.59,280.81L511.92,280.48L514.25,280.17L516.58,279.9L518.92,279.67L521.27,279.46L523.61,279.28L525.96,279.14L528.3,279.03L530.65,278.95L533,278.91L535.35,278.9L537.7,278.92L540.04,278.97L542.39,279.06L544.73,279.18L547.06,279.33L549.4,279.52L551.73,279.75L554.05,280L556.37,280.29L558.68,280.62L560.99,280.98L563.29,281.38L565.58,281.81L567.87,282.27L570.14,282.78L572.41,283.32L574.66,283.89L576.91,284.5L579.14,285.15L581.36,285.83L583.57,286.55L585.77,287.31L587.96,288.1L590.13,288.93L592.29,289.8L594.43,290.7L596.56,291.65L598.67,292.62L600.77,293.63L602.86,294.67L604.94,295.75L607,296.85L609.05,297.98L611.09,299.13L613.13,300.31L615.15,301.52L617.16,302.75L619.16,304L621.16,305.27L623.14,306.56L625.12,307.87L627.1,309.19L629.06,310.53L631.02,311.88L632.97,313.24L634.92,314.62L636.86,316L638.8,317.39L640.74,318.79L642.67,320.19L644.6,321.6L646.52,323.02L648.45,324.43L650.37,325.84L652.29,327.26L654.22,328.67L656.14,330.07L658.06,331.47L659.98,332.87L661.91,334.26L663.83,335.64L665.76,337.01L667.69,338.37L669.62,339.72L671.55,341.06L673.49,342.4L675.43,343.73L677.37,345.05L679.31,346.36L681.25,347.67L683.19,348.98L685.14,350.28L687.09,351.58L689.03,352.87L690.98,354.16L692.93,355.45L694.89,356.74L696.84,358.03L698.79,359.31L700.75,360.59L702.7,361.87L704.66,363.15L706.62,364.43L708.58,365.71L710.54,366.98L712.5,368.25L714.47,369.52L716.43,370.79L718.4,372.05L720.37,373.31L722.34,374.57L724.32,375.83L726.29,377.08L728.27,378.33L730.25,379.58L732.23,380.82L734.21,382.07L736.19,383.3L738.18,384.54L740.17,385.77L742.16,387L744.16,388.22L746.15,389.44L748.15,390.65L750.15,391.87L752.15,393.07L754.16,394.28L756.17,395.48L758.18,396.67L760.19,397.86L762.21,399.05L764.23,400.23L766.25,401.4L768.28,402.58L770.3,403.74L772.34,404.9L774.37,406.06L776.41,407.21L778.45,408.35L780.49,409.49L782.54,410.63L784.59,411.76L786.64,412.88L788.7,414L790.76,415.11L792.83,416.21L794.89,417.31L796.96,418.4L799.04,419.49L801.12,420.57L803.2,421.64L805.29,422.71L807.38,423.77L809.47,424.82L811.57,425.86L813.67,426.9L815.78,427.93L817.89,428.96L820.01,429.98L822.12,430.98L824.25,431.99L826.38,432.98L828.51,433.97L830.64,434.94L832.79,435.92L834.93,436.88L837.08,437.83L839.24,438.78L841.4,439.72L843.56,440.64L845.73,441.56L847.9,442.48L850.08,443.38L852.26,444.27L854.45,445.15L856.64,446.02L858.83,446.88L861.03,447.73L863.23,448.57L865.44,449.4L867.65,450.22L869.87,451.03L872.09,451.82L874.31,452.6L876.53,453.37L878.76,454.13L881,454.88L883.23,455.61L885.48,456.33L887.72,457.03L889.97,457.73L892.22,458.41L894.47,459.07L896.73,459.72L898.99,460.36L901.26,460.98L903.52,461.59L905.79,462.18L908.07,462.75L910.35,463.31L912.63,463.86L914.91,464.39L917.19,464.9L919.48,465.39L921.77,465.87L924.07,466.33L926.36,466.78L928.66,467.21L930.96,467.62L933.27,468.01L935.57,468.38L937.88,468.74L940.19,469.07L942.51,469.39L944.82,469.69L947.14,469.97L949.46,470.23L951.78,470.47L954.11,470.69L956.44,470.89L958.76,471.07L961.09,471.23L963.43,471.36L965.76,471.48L968.1,471.58L970.43,471.65L972.77,471.7L975.11,471.73L977.45,471.74L979.8,471.73L982.14,471.69L984.49,471.63L986.84,471.55L989.19,471.44L991.54,471.31L993.89,471.15L996.24,470.98L998.59,470.77L1000.95,470.55L1003.3,470.29L1005.66,470.02L1008.02,469.71" stroke="#ff0000" stroke-width="6.0" stroke-dasharray="20.65 20.55" stroke-dashoffset="2.5"/>
<path d="M187.5,780L188.24,777.47L188.97,774.94L189.7,772.41L190.43,769.88L191.15,767.35L191.87,764.82L192.58,762.28L193.3,759.75L194,757.21L194.71,754.68L195.41,752.14L196.11,749.6L196.81,747.06L197.5,744.52L198.19,741.98L198.88,739.44L199.57,736.89L200.25,734.35L200.94,731.81L201.62,729.26L202.3,726.72L202.98,724.17L203.66,721.63L204.34,719.08L205.01,716.54L205.69,713.99L206.36,711.45L207.04,708.9L207.71,706.36L208.39,703.81L209.06,701.26L209.74,698.72L210.42,696.17L211.09,693.63L211.77,691.08L212.45,688.54L213.13,685.99L213.81,683.45L214.49,680.9L215.18,678.36L215.86,675.82L216.55,673.27L217.24,670.73L217.93,668.19L218.62,665.65L219.32,663.11L220.02,660.57L220.72,658.04L221.43,655.5L222.13,652.96L222.84,650.43L223.56,647.89L224.28,645.36L225,642.83L225.73,640.3L226.46,637.77L227.19,635.24L227.93,632.71L228.67,630.19L229.42,627.66L230.17,625.14L230.92,622.61L231.68,620.09L232.45,617.57L233.21,615.05L233.98,612.54L234.76,610.02L235.54,607.51L236.32,604.99L237.11,602.48L237.9,599.97L238.69,597.46L239.49,594.95L240.29,592.44L241.1,589.93L241.91,587.43L242.72,584.92L243.54,582.42L244.36,579.92L245.19,577.42L246.02,574.92L246.85,572.42L247.69,569.92L248.53,567.43L249.37,564.93L250.22,562.44L251.07,559.95L251.93,557.46L252.79,554.97L253.65,552.48L254.51,549.99L255.38,547.5L256.26,545.02L257.13,542.53L258.01,540.05L258.9,537.57L259.78,535.09L260.68,532.61L261.57,530.13L262.47,527.65L263.37,525.18L264.27,522.7L265.18,520.23L266.09,517.76L267.01,515.28L267.92,512.81L268.85,510.35L269.77,507.88L270.7,505.41L271.63,502.94L272.56,500.48L273.5,498.02L274.44,495.55L275.39,493.09L276.34,490.63L277.29,488.17L278.24,485.72L279.2,483.26L280.16,480.8L281.12,478.35L282.09,475.9L283.06,473.44L284.03,470.99L285.01,468.54L285.98,466.09L286.97,463.65L287.95,461.2L288.94,458.75L289.93,456.31L290.92,453.87L291.92,451.42L292.92,448.98L293.92,446.54L294.93,444.1L295.94,441.67L296.95,439.23L297.96,436.79L298.98,434.36L300,431.93L301.03,429.5L302.06,427.07L303.09,424.64L304.12,422.21L305.16,419.79L306.2,417.36L307.25,414.94L308.3,412.52L309.35,410.1L310.41,407.68L311.47,405.27L312.53,402.86L313.6,400.44L314.67,398.03L315.75,395.63L316.83,393.22L317.92,390.82L319.01,388.42L320.1,386.02L321.2,383.62L322.3,381.23L323.41,378.84L324.52,376.45L325.64,374.06L326.76,371.67L327.89,369.29L329.02,366.91L330.16,364.54L331.3,362.16L332.45,359.79L333.6,357.42L334.76,355.06L335.92,352.69L337.09,350.33L338.26,347.97L339.44,345.62L340.62,343.27L341.81,340.92L343.01,338.57L344.21,336.23L345.42,333.89L346.63,331.56L347.85,329.23L349.07,326.9L350.3,324.57L351.54,322.25L352.78,319.93L354.03,317.61L355.29,315.3L356.55,312.99L357.82,310.69L359.09,308.39L360.38,306.09L361.66,303.8L362.96,301.51L364.26,299.22L365.57,296.94L366.89,294.67L368.21,292.4L369.54,290.13L370.88,287.87L372.23,285.61L373.59,283.36L374.96,281.11L376.34,278.87L377.73,276.64L379.13,274.41L380.53,272.19L381.95,269.98L383.38,267.77L384.82,265.57L386.28,263.38L387.74,261.19L389.22,259.01L390.71,256.84L392.21,254.68L393.73,252.53L395.26,250.38L396.8,248.25L398.35,246.12L399.92,244L401.51,241.89L403.11,239.79L404.72,237.69L406.35,235.61L408,233.54L409.66,231.48L411.33,229.43L413.03,227.39L414.74,225.36L416.47,223.34L418.21,221.33L419.97,219.33L421.75,217.35L423.55,215.38L425.37,213.41L427.2,211.46L429.06,209.53L430.93,207.6L432.82,205.69L434.73,203.8L436.67,201.92L438.62,200.07L440.59,198.23L442.58,196.42L444.59,194.63L446.62,192.86L448.68,191.13L450.75,189.42L452.84,187.75L454.96,186.1L457.09,184.49L459.25,182.92L461.43,181.38L463.63,179.88L465.85,178.43L468.09,177.01L470.35,175.64L472.64,174.31L474.95,173.04L477.27,171.81L479.63,170.63L482,169.5L484.4,168.42L486.82,167.4L489.26,166.44L491.73,165.54L494.21,164.69L496.73,163.91L499.26,163.19L501.82,162.53L504.39,161.94L506.98,161.41L509.59,160.93L512.22,160.52L514.85,160.17L517.5,159.87L520.16,159.64L522.82,159.46L525.5,159.34L528.17,159.28L530.85,159.28L533.53,159.33L536.21,159.44L538.89,159.61L541.56,159.83L544.23,160.1L546.89,160.43L549.54,160.81L552.19,161.25L554.82,161.74L557.43,162.28L560.03,162.87L562.62,163.51L565.18,164.21L567.73,164.95L570.25,165.74L572.76,166.58L575.25,167.47L577.72,168.4L580.18,169.37L582.61,170.38L585.03,171.44L587.43,172.53L589.82,173.66L592.19,174.82L594.55,176.02L596.89,177.25L599.21,178.51L601.52,179.8L603.82,181.13L606.1,182.48L608.37,183.85L610.63,185.25L612.87,186.67L615.1,188.11L617.31,189.58L619.52,191.06L621.71,192.56L623.9,194.07L626.07,195.6L628.23,197.15L630.38,198.7L632.52,200.27L634.65,201.84L636.77,203.43L638.89,205.02L640.99,206.62L643.08,208.23L645.17,209.85L647.25,211.48L649.32,213.12L651.38,214.76L653.44,216.41L655.49,218.07L657.53,219.73L659.56,221.41L661.59,223.09L663.61,224.77L665.63,226.46L667.64,228.16L669.64,229.86L671.64,231.57L673.64,233.29L675.63,235.01L677.61,236.73L679.59,238.46L681.57,240.19L683.54,241.93L685.51,243.67L687.48,245.42L689.44,247.17L691.4,248.92L693.36,250.67L695.32,252.43L697.27,254.19L699.22,255.95L701.18,257.72L703.12,259.49L705.07,261.26L707.02,263.03L708.97,264.8L710.91,266.57L712.86,268.34L714.8,270.11L716.75,271.89L718.7,273.66L720.64,275.43L722.59,277.21L724.54,278.98L726.49,280.75L728.44,282.52L730.39,284.29L732.34,286.05L734.3,287.82L736.26,289.58L738.22,291.34L740.18,293.09L742.15,294.85L744.12,296.6L746.09,298.35L748.06,300.09L750.04,301.83L752.03,303.56L754.01,305.29L756,307.02L758,308.74L760,310.46L762,312.17L764.01,313.87L766.03,315.57L768.05,317.26L770.08,318.95L772.11,320.63L774.14,322.3L776.19,323.97L778.24,325.63L780.3,327.28L782.36,328.92L784.43,330.55L786.51,332.17L788.59,333.79L790.68,335.39L792.78,336.99L794.89,338.57L797,340.15L799.12,341.71L801.25,343.26L803.39,344.8L805.54,346.33L807.69,347.85L809.85,349.35L812.03,350.85L814.21,352.32L816.4,353.79L818.6,355.24L820.81,356.68L823.03,358.1L825.26,359.51L827.5,360.91L829.75,362.29L832.01,363.65L834.28,365L836.56,366.33L838.85,367.65L841.15,368.95L843.46,370.23L845.79,371.49L848.12,372.73L850.46,373.96L852.81,375.17L855.18,376.36L857.55,377.52L859.93,378.67L862.32,379.8L864.72,380.9L867.13,381.98L869.55,383.05L871.98,384.08L874.42,385.1L876.86,386.09L879.32,387.06L881.78,388.01L884.25,388.93L886.73,389.82L889.22,390.69L891.72,391.53L894.23,392.35L896.74,393.14L899.26,393.91L901.79,394.64L904.33,395.35L906.88,396.03L909.43,396.68L911.99,397.31L914.55,397.91L917.13,398.48L919.71,399.02L922.29,399.54L924.88,400.04L927.48,400.51L930.08,400.95L932.68,401.37L935.29,401.76L937.91,402.13L940.53,402.47L943.15,402.79L945.78,403.09L948.4,403.36L951.04,403.61L953.67,403.84L956.31,404.04L958.95,404.22L961.59,404.38L964.23,404.52L966.87,404.63L969.52,404.72L972.16,404.79L974.81,404.85L977.46,404.88L980.1,404.89L982.75,404.87L985.39,404.84L988.04,404.79L990.68,404.72L993.32,404.63L995.96,404.52L998.6,404.4L1001.23,404.25L1003.87,404.09L1006.5,403.91L1009.12,403.71L1011.75,403.49L1014.37,403.25L1016.99,403L1019.6,402.73L1022.21,402.45L1024.81,402.15L1027.41,401.83L1030,401.5" stroke="#009e73" stroke-width="4.2"/>
<circle cx="226.1" cy="639" r="11.5" fill="#fff" stroke="#009e73" stroke-width="4.2"/>
<circle cx="293.9" cy="446.6" r="11.5" fill="#fff" stroke="#009e73" stroke-width="4.2"/>
<circle cx="361.1" cy="304.8" r="11.5" fill="#fff" stroke="#009e73" stroke-width="4.2"/>
<circle cx="428.6" cy="210" r="11.5" fill="#fff" stroke="#009e73" stroke-width="4.2"/>
<circle cx="496.1" cy="164.1" r="11.5" fill="#fff" stroke="#009e73" stroke-width="4.2"/>
<circle cx="563.7" cy="163.8" r="11.5" fill="#fff" stroke="#009e73" stroke-width="4.2"/>
<circle cx="631.2" cy="199.3" r="11.5" fill="#fff" stroke="#009e73" stroke-width="4.2"/>
<circle cx="698.5" cy="255.3" r="11.5" fill="#fff" stroke="#009e73" stroke-width="4.2"/>
<circle cx="766.3" cy="315.8" r="11.5" fill="#fff" stroke="#009e73" stroke-width="4.2"/>
<circle cx="833.6" cy="364.6" r="11.5" fill="#fff" stroke="#009e73" stroke-width="4.2"/>
<circle cx="901.3" cy="394.5" r="11.5" fill="#fff" stroke="#009e73" stroke-width="4.2"/>
<circle cx="968.8" cy="404.7" r="11.5" fill="#fff" stroke="#009e73" stroke-width="4.2"/>
<path d="M164.92,779.95L165.67,777.5L166.42,775.05L167.18,772.6L167.93,770.15L168.69,767.71L169.45,765.26L170.21,762.81L170.97,760.36L171.73,757.92L172.49,755.47L173.26,753.03L174.03,750.58L174.79,748.14L175.56,745.69L176.33,743.25L177.11,740.8L177.88,738.36L178.65,735.92L179.43,733.47L180.21,731.03L180.99,728.59L181.77,726.15L182.55,723.71L183.33,721.27L184.12,718.83L184.91,716.39L185.7,713.95L186.48,711.51L187.28,709.07L188.07,706.63L188.86,704.2L189.66,701.76L190.46,699.32L191.25,696.89L192.05,694.45L192.86,692.02L193.66,689.58L194.46,687.15L195.27,684.71L196.08,682.28L196.89,679.85L197.7,677.42L198.51,674.98L199.33,672.55L200.14,670.12L200.96,667.69L201.78,665.26L202.6,662.83L203.42,660.41L204.24,657.98L205.07,655.55L205.9,653.12L206.72,650.7L207.55,648.27L208.39,645.84L209.22,643.42L210.05,640.99L210.89,638.57L211.73,636.15L212.57,633.72L213.41,631.3L214.25,628.88L215.1,626.46L215.95,624.04L216.79,621.62L217.64,619.2L218.5,616.78L219.35,614.36L220.2,611.95L221.06,609.53L221.92,607.11L222.78,604.7L223.64,602.28L224.5,599.87L225.37,597.45L226.24,595.04L227.11,592.63L227.98,590.22L228.85,587.8L229.72,585.39L230.6,582.98L231.48,580.57L232.35,578.17L233.24,575.76L234.12,573.35L235,570.94L235.89,568.54L236.78,566.13L237.67,563.73L238.56,561.32L239.45,558.92L240.35,556.52L241.25,554.11L242.15,551.71L243.05,549.31L243.95,546.91L244.85,544.51L245.76,542.11L246.67,539.71L247.58,537.32L248.49,534.92L249.4,532.52L250.32,530.13L251.24,527.74L252.16,525.34L253.08,522.95L254,520.56L254.93,518.17L255.85,515.77L256.78,513.38L257.71,511L258.65,508.61L259.58,506.22L260.52,503.83L261.46,501.45L262.4,499.06L263.34,496.68L264.28,494.29L265.23,491.91L266.18,489.53L267.13,487.15L268.08,484.77L269.04,482.39L270,480.01L270.96,477.63L271.92,475.26L272.89,472.88L273.85,470.51L274.83,468.13L275.8,465.76L276.78,463.39L277.76,461.03L278.74,458.66L279.73,456.3L280.72,453.93L281.72,451.57L282.71,449.21L283.71,446.85L284.72,444.5L285.73,442.14L286.74,439.79L287.76,437.44L288.78,435.09L289.8,432.74L290.83,430.4L291.87,428.06L292.91,425.72L293.95,423.38L295,421.04L296.05,418.71L297.1,416.38L298.17,414.05L299.23,411.72L300.3,409.4L301.38,407.08L302.46,404.76L303.55,402.44L304.64,400.13L305.74,397.82L306.85,395.51L307.95,393.21L309.07,390.9L310.19,388.61L311.32,386.31L312.45,384.02L313.59,381.73L314.73,379.44L315.89,377.16L317.04,374.88L318.21,372.6L319.38,370.33L320.56,368.06L321.74,365.79L322.93,363.53L324.13,361.27L325.33,359.01L326.54,356.76L327.76,354.51L328.99,352.26L330.22,350.02L331.46,347.79L332.71,345.55L333.96,343.32L335.23,341.1L336.5,338.88L337.78,336.66L339.06,334.44L340.36,332.23L341.66,330.03L342.97,327.83L344.29,325.63L345.62,323.44L346.95,321.25L348.29,319.07L349.65,316.89L351.01,314.72L352.38,312.55L353.76,310.38L355.14,308.22L356.54,306.06L357.95,303.91L359.36,301.77L360.79,299.63L362.22,297.49L363.66,295.36L365.12,293.23L366.58,291.11L368.05,289L369.53,286.89L371.02,284.78L372.52,282.68L374.04,280.58L375.56,278.5L377.09,276.41L378.63,274.33L380.18,272.26L381.75,270.19L383.32,268.14L384.91,266.09L386.5,264.04L388.11,262.01L389.73,259.98L391.36,257.97L393,255.96L394.66,253.97L396.32,251.98L398,250.01L399.69,248.05L401.4,246.1L403.11,244.17L404.84,242.25L406.59,240.34L408.34,238.44L410.11,236.57L411.89,234.7L413.69,232.86L415.5,231.03L417.33,229.21L419.17,227.42L421.02,225.64L422.89,223.88L424.77,222.14L426.67,220.41L428.58,218.71L430.51,217.03L432.45,215.37L434.41,213.73L436.39,212.11L438.38,210.52L440.39,208.94L442.41,207.39L444.45,205.87L446.51,204.37L448.58,202.89L450.67,201.44L452.78,200.01L454.9,198.61L457.04,197.24L459.2,195.89L461.38,194.57L463.57,193.28L465.79,192.02L468.02,190.79L470.27,189.59L472.53,188.41L474.81,187.28L477.11,186.17L479.43,185.1L481.76,184.06L484.11,183.06L486.47,182.1L488.85,181.18L491.24,180.29L493.65,179.45L496.07,178.65L498.51,177.89L500.95,177.17L503.41,176.5L505.89,175.87L508.37,175.29L510.86,174.75L513.37,174.26L515.88,173.81L518.4,173.41L520.93,173.05L523.46,172.73L526,172.45L528.54,172.22L531.08,172.04L533.63,171.89L536.18,171.79L538.73,171.73L541.28,171.71L543.83,171.74L546.38,171.8L548.92,171.91L551.46,172.06L554.01,172.24L556.54,172.47L559.08,172.73L561.61,173.03L564.14,173.37L566.67,173.75L569.19,174.16L571.71,174.6L574.22,175.08L576.73,175.6L579.24,176.15L581.74,176.73L584.23,177.34L586.72,177.99L589.21,178.66L591.69,179.37L594.16,180.1L596.63,180.87L599.09,181.66L601.54,182.48L603.99,183.33L606.43,184.21L608.87,185.11L611.29,186.03L613.71,186.98L616.12,187.96L618.53,188.96L620.92,189.98L623.31,191.03L625.68,192.09L628.05,193.18L630.41,194.29L632.76,195.41L635.1,196.56L637.43,197.73L639.75,198.91L642.07,200.11L644.37,201.33L646.65,202.56L648.93,203.81L651.2,205.07L653.46,206.35L655.7,207.64L657.93,208.95L660.16,210.27L662.36,211.6L664.56,212.94L666.75,214.29L668.93,215.65L671.09,217.02L673.25,218.4L675.4,219.78L677.54,221.18L679.68,222.58L681.81,223.98L683.93,225.4L686.05,226.81L688.16,228.23L690.27,229.65L692.37,231.08L694.47,232.51L696.57,233.94L698.67,235.36L700.77,236.79L702.86,238.22L704.96,239.65L707.05,241.07L709.15,242.5L711.25,243.92L713.35,245.33L715.46,246.74L717.56,248.14L719.68,249.54L721.79,250.94L723.91,252.32L726.04,253.7L728.18,255.06L730.32,256.42L732.47,257.77L734.62,259.11L736.78,260.45L738.95,261.77L741.12,263.09L743.3,264.41L745.49,265.71L747.68,267.02L749.88,268.31L752.08,269.6L754.28,270.89L756.49,272.17L758.71,273.45L760.93,274.73L763.15,276.01L765.38,277.28L767.61,278.55L769.85,279.81L772.09,281.08L774.33,282.33L776.58,283.59L778.83,284.84L781.09,286.08L783.35,287.32L785.61,288.56L787.88,289.78L790.16,291L792.43,292.22L794.72,293.43L797,294.62L799.29,295.82L801.59,297L803.89,298.17L806.19,299.34L808.5,300.49L810.81,301.64L813.13,302.77L815.45,303.9L817.78,305.01L820.11,306.12L822.44,307.21L824.78,308.29L827.13,309.35L829.47,310.41L831.83,311.45L834.19,312.47L836.55,313.49L838.91,314.49L841.29,315.47L843.66,316.44L846.04,317.4L848.43,318.34L850.82,319.26L853.22,320.16L855.62,321.05L858.02,321.93L860.43,322.78L862.85,323.62L865.27,324.44L867.69,325.24L870.12,326.02L872.55,326.78L874.99,327.52L877.44,328.24L879.89,328.94L882.34,329.63L884.8,330.28L887.26,330.92L889.73,331.54L892.21,332.13L894.69,332.7L897.17,333.25L899.66,333.78L902.16,334.28L904.66,334.75L907.16,335.2L909.67,335.63L912.19,336.03L914.71,336.41L917.23,336.76L919.76,337.09L922.3,337.39L924.84,337.66L927.38,337.91L929.93,338.14L932.49,338.35L935.04,338.53L937.6,338.7L940.16,338.84L942.73,338.96L945.3,339.06L947.87,339.14L950.44,339.2L953.02,339.25L955.59,339.27L958.17,339.28L960.75,339.27L963.33,339.25L965.91,339.21L968.49,339.16L971.07,339.09L973.65,339.01L976.23,338.91L978.82,338.8L981.4,338.68L983.98,338.55L986.55,338.4L989.13,338.25L991.71,338.08L994.28,337.91L996.85,337.72L999.42,337.53L1001.99,337.33L1004.55,337.12L1007.11,336.91L1009.67,336.69L1012.22,336.46L1014.77,336.23L1017.32,336L1019.86,335.76L1022.4,335.51L1024.93,335.27L1027.46,335.02L1029.98,334.77" stroke="#009e73" stroke-width="6.0" stroke-dasharray="20.65 20.55" stroke-dashoffset="0"/>
</g>
<path d="M370.5,537.9H434.7" stroke="#000000" stroke-width="4.2" fill="none"/>
<rect x="392.45" y="527.55" width="20.7" height="20.7" fill="#fff" stroke="#000000" stroke-width="4.2" stroke-linejoin="miter"/>
<path d="M370.5,600.8H434.7" stroke="#0000ff" stroke-width="4.2" fill="none"/>
<polygon points="402.8,585.67 415.9,608.36 389.7,608.36" fill="#fff" stroke="#0000ff" stroke-width="4.2" stroke-linejoin="miter"/>
<path d="M370.5,663.7H434.7" stroke="#ff0000" stroke-width="4.2" fill="none"/>
<polygon points="402.8,678.83 415.9,656.14 389.7,656.14" fill="#fff" stroke="#ff0000" stroke-width="4.2" stroke-linejoin="miter"/>
<path d="M370.5,726.6H434.7" stroke="#009e73" stroke-width="4.2" fill="none"/>
<circle cx="402.8" cy="726.6" r="11.5" fill="#fff" stroke="#009e73" stroke-width="4.2"/>
<text transform="translate(105.39,70.85) scale(0.6025,0.4451)" font-family="Liberation Serif, serif" font-style="italic" font-size="100" fill="#262626">γ</text>
<text transform="translate(132.6,70.9) scale(0.4674,0.4522)" font-family="Liberation Serif, serif" font-style="italic" font-size="100" fill="#262626">k</text>
<text transform="translate(153.97,77.49) scale(0.3262,0.3141)" font-family="Liberation Serif, serif" font-style="italic" font-size="100" fill="#262626">θ</text>
<text transform="translate(171.55,75.04) scale(0.5043,0.4609)" font-family="Liberation Serif, serif" font-style="normal" font-size="100" fill="#262626">·</text>
<text transform="translate(187.46,76.32) scale(0.6577,0.5597)" font-family="Liberation Serif, serif" font-style="normal" font-size="100" fill="#262626">√</text>
<text transform="translate(222.24,70.4) scale(0.4575,0.4470)" font-family="Liberation Serif, serif" font-style="normal" font-size="100" fill="#262626">2</text>
<text transform="translate(246.93,70.76) scale(0.4505,0.4162)" font-family="Liberation Serif, serif" font-style="italic" font-size="100" fill="#262626">ρ</text>
<text transform="translate(266.82,76.88) scale(0.3520,0.3246)" font-family="Liberation Serif, serif" font-style="italic" font-size="100" fill="#262626">t</text>
<text transform="translate(276.35,77.2) scale(0.4632,0.3106)" font-family="Liberation Serif, serif" font-style="italic" font-size="100" fill="#262626">i</text>
<text transform="translate(167.68,120.76) scale(0.4336,0.4358)" font-family="Liberation Serif, serif" font-style="italic" font-size="100" fill="#262626">ω</text>
<text transform="translate(196.61,135.97) scale(0.2975,0.3534)" font-family="Liberation Serif, serif" font-style="normal" font-size="100" fill="#262626">*</text>
<text transform="translate(212.35,127.59) scale(0.3154,0.3104)" font-family="Liberation Serif, serif" font-style="italic" font-size="100" fill="#262626">e</text>
<text transform="translate(441.64,896.6) scale(0.5860,0.5159)" font-family="Liberation Serif, serif" font-style="italic" font-size="100" fill="#262626">k</text>
<text transform="translate(467.85,902.56) scale(0.3500,0.3394)" font-family="Liberation Serif, serif" font-style="italic" font-size="100" fill="#262626">θ</text>
<text transform="translate(496.07,901.09) scale(0.5478,0.5217)" font-family="Liberation Serif, serif" font-style="normal" font-size="100" fill="#262626">·</text>
<text transform="translate(525.3,901.39) scale(0.7192,0.6138)" font-family="Liberation Serif, serif" font-style="normal" font-size="100" fill="#262626">√</text>
<text transform="translate(565.34,896) scale(0.5025,0.5045)" font-family="Liberation Serif, serif" font-style="normal" font-size="100" fill="#262626">2</text>
<text transform="translate(593.85,896.44) scale(0.4989,0.4838)" font-family="Liberation Serif, serif" font-style="italic" font-size="100" fill="#262626">ρ</text>
<text transform="translate(617.27,901.91) scale(0.3400,0.3947)" font-family="Liberation Serif, serif" font-style="italic" font-size="100" fill="#262626">t</text>
<text transform="translate(627.59,902.3) scale(0.5105,0.3409)" font-family="Liberation Serif, serif" font-style="italic" font-size="100" fill="#262626">i</text>
<text transform="translate(446.44,551.17) scale(0.4574,0.4825)" font-family="DejaVu Serif, serif" font-style="italic" font-size="100" fill="#000000">f</text>
<text transform="translate(468.79,557.66) scale(0.2852,0.2947)" font-family="DejaVu Serif, serif" font-style="italic" font-size="100" fill="#000000">z</text>
<text transform="translate(500.7,555.02) scale(0.7398,0.5280)" font-family="Liberation Serif, serif" font-style="normal" font-size="100" fill="#000000">=</text>
<text transform="translate(555.64,550.97) scale(0.5405,0.5259)" font-family="Liberation Serif, serif" font-style="normal" font-size="100" fill="#000000">0</text>
<text transform="translate(443.42,613.7) scale(0.6300,0.5400)" font-family="Liberation Serif, serif" font-style="italic" font-size="100" fill="#000000">R</text>
<text transform="translate(483.7,625.13) scale(0.7382,0.7699)" font-family="Liberation Serif, serif" font-style="normal" font-size="100" fill="#000000">/</text>
<text transform="translate(509.3,613.4) scale(0.6000,0.5354)" font-family="Liberation Serif, serif" font-style="italic" font-size="100" fill="#000000">L</text>
<text transform="translate(540.65,621.78) scale(0.4706,0.3656)" font-family="Liberation Serif, serif" font-style="italic" font-size="100" fill="#000000">n</text>
<text transform="translate(565.08,620.85) scale(0.2815,0.2982)" font-family="DejaVu Serif, serif" font-style="italic" font-size="100" fill="#000000">z</text>
<text transform="translate(597.12,617.72) scale(0.7570,0.5280)" font-family="Liberation Serif, serif" font-style="normal" font-size="100" fill="#000000">=</text>
<text transform="translate(692.16,613.98) scale(0.5264,0.5200)" font-family="Liberation Serif, serif" font-style="normal" font-size="100" fill="#000000">10</text>
<text transform="translate(651.88,625.06) scale(0.7441,0.7457)" font-family="Liberation Serif, serif" font-style="normal" font-size="100" fill="#000000">+</text>
<text transform="translate(443.42,676.6) scale(0.6300,0.5400)" font-family="Liberation Serif, serif" font-style="italic" font-size="100" fill="#000000">R</text>
<text transform="translate(483.7,688.03) scale(0.7382,0.7699)" font-family="Liberation Serif, serif" font-style="normal" font-size="100" fill="#000000">/</text>
<text transform="translate(509.3,676.3) scale(0.6000,0.5354)" font-family="Liberation Serif, serif" font-style="italic" font-size="100" fill="#000000">L</text>
<text transform="translate(540.65,684.68) scale(0.4706,0.3656)" font-family="Liberation Serif, serif" font-style="italic" font-size="100" fill="#000000">n</text>
<text transform="translate(565.08,683.75) scale(0.2815,0.2982)" font-family="DejaVu Serif, serif" font-style="italic" font-size="100" fill="#000000">z</text>
<text transform="translate(597.12,680.62) scale(0.7570,0.5280)" font-family="Liberation Serif, serif" font-style="normal" font-size="100" fill="#000000">=</text>
<text transform="translate(692.16,676.77) scale(0.5264,0.5274)" font-family="Liberation Serif, serif" font-style="normal" font-size="100" fill="#000000">10</text>
<text transform="translate(653.33,683.2) scale(0.6946,0.6000)" font-family="Liberation Serif, serif" font-style="normal" font-size="100" fill="#000000">−</text>
<text transform="translate(443.42,739.5) scale(0.6300,0.5400)" font-family="Liberation Serif, serif" font-style="italic" font-size="100" fill="#000000">R</text>
<text transform="translate(483.7,750.93) scale(0.7382,0.7699)" font-family="Liberation Serif, serif" font-style="normal" font-size="100" fill="#000000">/</text>
<text transform="translate(509.3,739.2) scale(0.6000,0.5354)" font-family="Liberation Serif, serif" font-style="italic" font-size="100" fill="#000000">L</text>
<text transform="translate(540.65,747.58) scale(0.4706,0.3656)" font-family="Liberation Serif, serif" font-style="italic" font-size="100" fill="#000000">n</text>
<text transform="translate(565.08,746.65) scale(0.2815,0.2982)" font-family="DejaVu Serif, serif" font-style="italic" font-size="100" fill="#000000">z</text>
<text transform="translate(597.12,743.52) scale(0.7570,0.5280)" font-family="Liberation Serif, serif" font-style="normal" font-size="100" fill="#000000">=</text>
<text transform="translate(692.27,740.27) scale(0.5253,0.5319)" font-family="Liberation Serif, serif" font-style="normal" font-size="100" fill="#000000">30</text>
<text transform="translate(653.33,746.1) scale(0.6946,0.6000)" font-family="Liberation Serif, serif" font-style="normal" font-size="100" fill="#000000">−</text>
<text transform="translate(682.73,72.5) scale(0.5341,0.5362)" font-family="Liberation Serif, serif" font-style="normal" font-size="100" fill="#000000">Solid:</text>
<text transform="translate(832.69,71.87) scale(0.5701,0.5299)" font-family="Liberation Serif, serif" font-style="normal" font-size="100" fill="#000000">Matrix</text>
<text transform="translate(686.16,168.01) scale(0.5476,0.5268)" font-family="Liberation Serif, serif" font-style="normal" font-size="100" fill="#000000">Dashed:</text>
<text transform="translate(888.17,169.5) scale(0.5432,0.5588)" font-family="Liberation Serif, serif" font-style="normal" font-size="100" fill="#000000">HD7</text>
<path d="M106.3,82.8H293" stroke="#262626" stroke-width="2.9" fill="none"/>
<path d="M221,32.9H244.4" stroke="#262626" stroke-width="1.9" fill="none"/>
<path d="M563.5,853.6H590.7" stroke="#262626" stroke-width="2.0" fill="none"/>
</svg>
</body></html>
